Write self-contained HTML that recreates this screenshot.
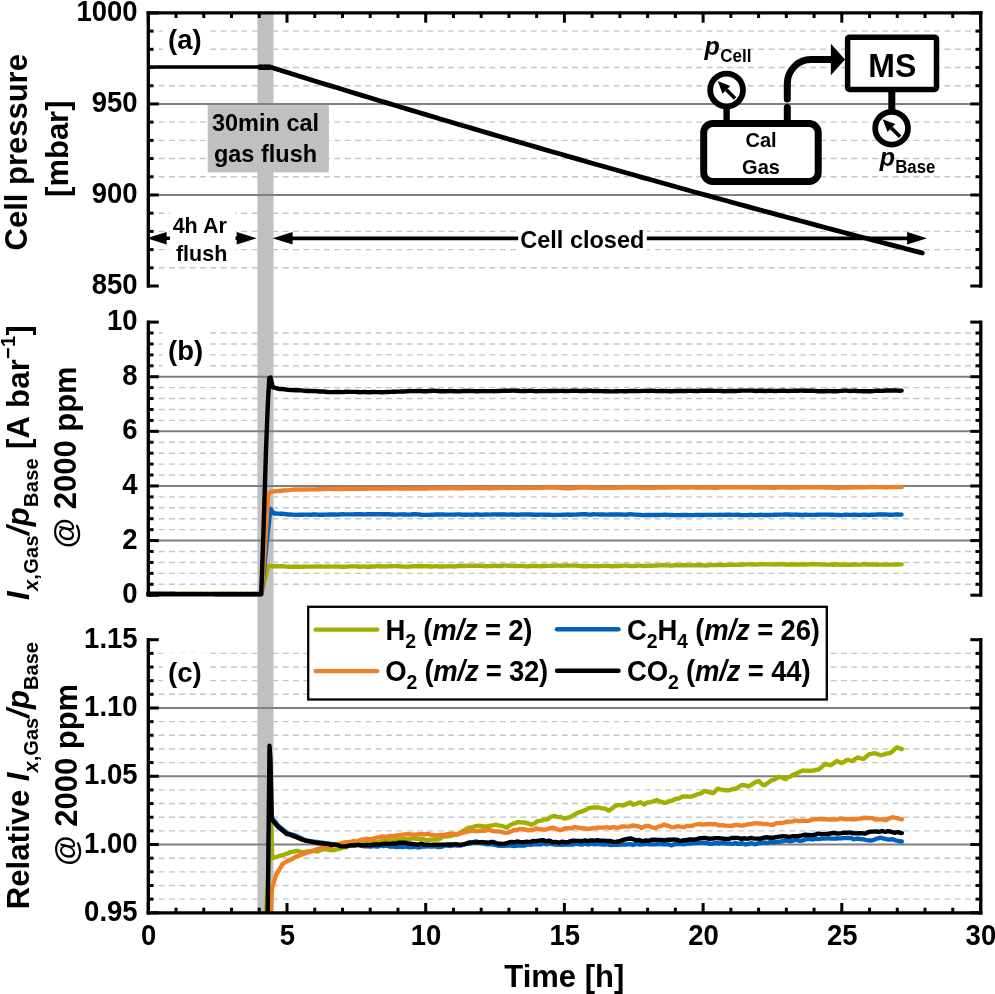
<!DOCTYPE html>
<html><head><meta charset="utf-8"><title>Cell pressure and MS calibration</title>
<style>
html,body{margin:0;padding:0;background:#fff;overflow:hidden;}
svg{display:block;}
text{font-family:"Liberation Sans",Arial,Helvetica,sans-serif;font-weight:bold;fill:#000;}
</style></head>
<body>
<svg width="995" height="994" viewBox="0 0 995 994">
<rect width="995" height="994" fill="#fff"/>
<rect x="257.4" y="12.9" width="16.1" height="899.9" fill="#C0C0C0"/>
<rect x="207.7" y="104.8" width="121.2" height="67.6" fill="#C0C0C0"/>
<line x1="158.6" y1="267.8" x2="977.8" y2="267.8" stroke="#C6C6C6" stroke-width="1.4" stroke-dasharray="5.9 4.44"/>
<line x1="158.6" y1="249.59" x2="977.8" y2="249.59" stroke="#C6C6C6" stroke-width="1.4" stroke-dasharray="5.9 4.44"/>
<line x1="158.6" y1="231.38" x2="977.8" y2="231.38" stroke="#C6C6C6" stroke-width="1.4" stroke-dasharray="5.9 4.44"/>
<line x1="158.6" y1="213.18" x2="977.8" y2="213.18" stroke="#C6C6C6" stroke-width="1.4" stroke-dasharray="5.9 4.44"/>
<line x1="148.3" y1="194.97" x2="980.8" y2="194.97" stroke="#808080" stroke-width="2"/>
<line x1="158.6" y1="176.76" x2="977.8" y2="176.76" stroke="#C6C6C6" stroke-width="1.4" stroke-dasharray="5.9 4.44"/>
<line x1="158.6" y1="158.56" x2="977.8" y2="158.56" stroke="#C6C6C6" stroke-width="1.4" stroke-dasharray="5.9 4.44"/>
<line x1="158.6" y1="140.35" x2="977.8" y2="140.35" stroke="#C6C6C6" stroke-width="1.4" stroke-dasharray="5.9 4.44"/>
<line x1="158.6" y1="122.14" x2="977.8" y2="122.14" stroke="#C6C6C6" stroke-width="1.4" stroke-dasharray="5.9 4.44"/>
<line x1="148.3" y1="103.94" x2="980.8" y2="103.94" stroke="#808080" stroke-width="2"/>
<line x1="158.6" y1="85.73" x2="977.8" y2="85.73" stroke="#C6C6C6" stroke-width="1.4" stroke-dasharray="5.9 4.44"/>
<line x1="158.6" y1="67.52" x2="977.8" y2="67.52" stroke="#C6C6C6" stroke-width="1.4" stroke-dasharray="5.9 4.44"/>
<line x1="158.6" y1="49.31" x2="977.8" y2="49.31" stroke="#C6C6C6" stroke-width="1.4" stroke-dasharray="5.9 4.44"/>
<line x1="158.6" y1="31.11" x2="977.8" y2="31.11" stroke="#C6C6C6" stroke-width="1.4" stroke-dasharray="5.9 4.44"/>
<line x1="158.6" y1="584.28" x2="977.8" y2="584.28" stroke="#C6C6C6" stroke-width="1.4" stroke-dasharray="5.9 4.44"/>
<line x1="158.6" y1="573.35" x2="977.8" y2="573.35" stroke="#C6C6C6" stroke-width="1.4" stroke-dasharray="5.9 4.44"/>
<line x1="158.6" y1="562.43" x2="977.8" y2="562.43" stroke="#C6C6C6" stroke-width="1.4" stroke-dasharray="5.9 4.44"/>
<line x1="158.6" y1="551.5" x2="977.8" y2="551.5" stroke="#C6C6C6" stroke-width="1.4" stroke-dasharray="5.9 4.44"/>
<line x1="148.3" y1="540.58" x2="980.8" y2="540.58" stroke="#808080" stroke-width="2"/>
<line x1="158.6" y1="529.66" x2="977.8" y2="529.66" stroke="#C6C6C6" stroke-width="1.4" stroke-dasharray="5.9 4.44"/>
<line x1="158.6" y1="518.73" x2="977.8" y2="518.73" stroke="#C6C6C6" stroke-width="1.4" stroke-dasharray="5.9 4.44"/>
<line x1="158.6" y1="507.81" x2="977.8" y2="507.81" stroke="#C6C6C6" stroke-width="1.4" stroke-dasharray="5.9 4.44"/>
<line x1="158.6" y1="496.88" x2="977.8" y2="496.88" stroke="#C6C6C6" stroke-width="1.4" stroke-dasharray="5.9 4.44"/>
<line x1="148.3" y1="485.96" x2="980.8" y2="485.96" stroke="#808080" stroke-width="2"/>
<line x1="158.6" y1="475.04" x2="977.8" y2="475.04" stroke="#C6C6C6" stroke-width="1.4" stroke-dasharray="5.9 4.44"/>
<line x1="158.6" y1="464.11" x2="977.8" y2="464.11" stroke="#C6C6C6" stroke-width="1.4" stroke-dasharray="5.9 4.44"/>
<line x1="158.6" y1="453.19" x2="977.8" y2="453.19" stroke="#C6C6C6" stroke-width="1.4" stroke-dasharray="5.9 4.44"/>
<line x1="158.6" y1="442.26" x2="977.8" y2="442.26" stroke="#C6C6C6" stroke-width="1.4" stroke-dasharray="5.9 4.44"/>
<line x1="148.3" y1="431.34" x2="980.8" y2="431.34" stroke="#808080" stroke-width="2"/>
<line x1="158.6" y1="420.42" x2="977.8" y2="420.42" stroke="#C6C6C6" stroke-width="1.4" stroke-dasharray="5.9 4.44"/>
<line x1="158.6" y1="409.49" x2="977.8" y2="409.49" stroke="#C6C6C6" stroke-width="1.4" stroke-dasharray="5.9 4.44"/>
<line x1="158.6" y1="398.57" x2="977.8" y2="398.57" stroke="#C6C6C6" stroke-width="1.4" stroke-dasharray="5.9 4.44"/>
<line x1="158.6" y1="387.64" x2="977.8" y2="387.64" stroke="#C6C6C6" stroke-width="1.4" stroke-dasharray="5.9 4.44"/>
<line x1="148.3" y1="376.72" x2="980.8" y2="376.72" stroke="#808080" stroke-width="2"/>
<line x1="158.6" y1="365.8" x2="977.8" y2="365.8" stroke="#C6C6C6" stroke-width="1.4" stroke-dasharray="5.9 4.44"/>
<line x1="158.6" y1="354.87" x2="977.8" y2="354.87" stroke="#C6C6C6" stroke-width="1.4" stroke-dasharray="5.9 4.44"/>
<line x1="158.6" y1="343.95" x2="977.8" y2="343.95" stroke="#C6C6C6" stroke-width="1.4" stroke-dasharray="5.9 4.44"/>
<line x1="158.6" y1="333.02" x2="977.8" y2="333.02" stroke="#C6C6C6" stroke-width="1.4" stroke-dasharray="5.9 4.44"/>
<line x1="158.6" y1="899.14" x2="977.8" y2="899.14" stroke="#C6C6C6" stroke-width="1.4" stroke-dasharray="5.9 4.44"/>
<line x1="158.6" y1="885.49" x2="977.8" y2="885.49" stroke="#C6C6C6" stroke-width="1.4" stroke-dasharray="5.9 4.44"/>
<line x1="158.6" y1="871.83" x2="977.8" y2="871.83" stroke="#C6C6C6" stroke-width="1.4" stroke-dasharray="5.9 4.44"/>
<line x1="158.6" y1="858.18" x2="977.8" y2="858.18" stroke="#C6C6C6" stroke-width="1.4" stroke-dasharray="5.9 4.44"/>
<line x1="148.3" y1="844.52" x2="980.8" y2="844.52" stroke="#808080" stroke-width="2"/>
<line x1="158.6" y1="830.87" x2="977.8" y2="830.87" stroke="#C6C6C6" stroke-width="1.4" stroke-dasharray="5.9 4.44"/>
<line x1="158.6" y1="817.21" x2="977.8" y2="817.21" stroke="#C6C6C6" stroke-width="1.4" stroke-dasharray="5.9 4.44"/>
<line x1="158.6" y1="803.56" x2="977.8" y2="803.56" stroke="#C6C6C6" stroke-width="1.4" stroke-dasharray="5.9 4.44"/>
<line x1="158.6" y1="789.9" x2="977.8" y2="789.9" stroke="#C6C6C6" stroke-width="1.4" stroke-dasharray="5.9 4.44"/>
<line x1="148.3" y1="776.25" x2="980.8" y2="776.25" stroke="#808080" stroke-width="2"/>
<line x1="158.6" y1="762.59" x2="977.8" y2="762.59" stroke="#C6C6C6" stroke-width="1.4" stroke-dasharray="5.9 4.44"/>
<line x1="158.6" y1="748.94" x2="977.8" y2="748.94" stroke="#C6C6C6" stroke-width="1.4" stroke-dasharray="5.9 4.44"/>
<line x1="158.6" y1="735.28" x2="977.8" y2="735.28" stroke="#C6C6C6" stroke-width="1.4" stroke-dasharray="5.9 4.44"/>
<line x1="158.6" y1="721.63" x2="977.8" y2="721.63" stroke="#C6C6C6" stroke-width="1.4" stroke-dasharray="5.9 4.44"/>
<line x1="148.3" y1="707.98" x2="980.8" y2="707.98" stroke="#808080" stroke-width="2"/>
<line x1="158.6" y1="694.32" x2="977.8" y2="694.32" stroke="#C6C6C6" stroke-width="1.4" stroke-dasharray="5.9 4.44"/>
<line x1="158.6" y1="680.67" x2="977.8" y2="680.67" stroke="#C6C6C6" stroke-width="1.4" stroke-dasharray="5.9 4.44"/>
<line x1="158.6" y1="667.01" x2="977.8" y2="667.01" stroke="#C6C6C6" stroke-width="1.4" stroke-dasharray="5.9 4.44"/>
<line x1="158.6" y1="653.36" x2="977.8" y2="653.36" stroke="#C6C6C6" stroke-width="1.4" stroke-dasharray="5.9 4.44"/>
<line x1="148.3" y1="67" x2="271" y2="67" stroke="#000" stroke-width="3.7"/>
<line x1="258.5" y1="67.2" x2="270" y2="67.2" stroke="#000" stroke-width="5.6"/>
<polyline fill="none" stroke="#000" stroke-width="4.8" stroke-linejoin="round" stroke-linecap="round" points="270,67 274,68.33 282,70.82 290,73.3 298,75.77 306,78.24 314,80.71 322,83.17 330,85.62 338,88.07 346,90.51 354,92.95 362,95.39 370,97.82 378,100.24 386,102.66 394,105.07 402,107.48 410,109.88 418,112.28 426,114.67 434,117.06 442,119.44 450,121.82 458,124.19 466,126.56 474,128.92 482,131.27 490,133.63 498,135.97 506,138.31 514,140.65 522,142.98 530,145.3 538,147.62 546,149.94 554,152.25 562,154.55 570,156.85 578,159.15 586,161.44 594,163.72 602,166 610,168.27 618,170.54 626,172.81 634,175.06 642,177.32 650,179.56 658,181.81 666,184.04 674,186.28 682,188.5 690,190.73 698,192.94 706,195.15 714,197.36 722,199.56 730,201.76 738,203.95 746,206.14 754,208.32 762,210.49 770,212.66 778,214.83 786,216.99 794,219.14 802,221.29 810,223.44 818,225.58 826,227.71 834,229.84 842,231.96 850,234.08 858,236.2 866,238.3 874,240.41 882,242.5 890,244.6 898,246.69 906,248.77 914,250.85 922,252.92 922.3,252.99"/>
<text transform="translate(265.5,130.8) scale(1,1.041)" font-size="23.5" text-anchor="middle">30min cal</text>
<text transform="translate(265.5,161.8) scale(1,1.041)" font-size="23.5" text-anchor="middle">gas flush</text>
<line x1="160" y1="238.3" x2="245" y2="238.3" stroke="#000" stroke-width="3.6"/>
<polygon points="146.6,238.3 166.6,232.1 166.6,244.5" fill="#000"/>
<polygon points="256.7,238.3 236.7,232.1 236.7,244.5" fill="#000"/>
<rect x="170" y="204" width="65.5" height="58" fill="#fff"/>
<text transform="translate(199.7,232.6) scale(1,1.041)" font-size="21.5" text-anchor="middle">4h Ar</text>
<text transform="translate(201.6,260.8) scale(1,1.041)" font-size="21.5" text-anchor="middle">flush</text>
<line x1="285" y1="238.3" x2="915" y2="238.3" stroke="#000" stroke-width="3.8"/>
<polygon points="272.6,238.3 292.6,232.1 292.6,244.5" fill="#000"/>
<polygon points="927.1,238.3 907.1,232.1 907.1,244.5" fill="#000"/>
<rect x="518.2" y="226" width="128.6" height="27" fill="#fff"/>
<text transform="translate(582.3,247.8) scale(1,1.041)" font-size="23.5" text-anchor="middle">Cell closed</text>
<rect x="703.7" y="123.6" width="114.5" height="57.8" rx="9" ry="9" stroke="#000" stroke-width="7" fill="#fff"/>
<text transform="translate(761,147.3) scale(1,1.041)" font-size="20" text-anchor="middle">Cal</text>
<text transform="translate(761,174.4) scale(1,1.041)" font-size="20" text-anchor="middle">Gas</text>
<line x1="726.6" y1="106" x2="726.6" y2="121" stroke="#000" stroke-width="6.4"/>
<line x1="891.8" y1="90" x2="891.8" y2="112" stroke="#000" stroke-width="7"/>
<path d="M787.3,121 V107.6" stroke="#000" stroke-width="7" fill="none" stroke-linecap="round"/>
<path d="M787.3,99 V83.5 A23.9,23.9 0 0 1 811.2,59.6 H833" stroke="#000" stroke-width="7" fill="none" stroke-linecap="round"/>
<polygon points="845,59.4 830.9,43.8 830.9,75.3" fill="#000"/>
<rect x="847.6" y="37.2" width="88.9" height="52.3" rx="2" ry="2" stroke="#000" stroke-width="5.5" fill="#fff"/>
<text transform="translate(892.3,76.6) scale(1,1.041)" font-size="32" text-anchor="middle">MS</text>
<circle cx="726.6" cy="90.0" r="16.4" stroke="#000" stroke-width="5.8" fill="#fff"/><line x1="735.09" y1="98.49" x2="726.39" y2="89.79" stroke="#000" stroke-width="3.7"/><polygon points="717.69,81.09 722.5,93.68 730.28,85.9" fill="#000"/>
<circle cx="891.6" cy="128.2" r="16.4" stroke="#000" stroke-width="5.8" fill="#fff"/><line x1="900.09" y1="136.69" x2="891.39" y2="127.99" stroke="#000" stroke-width="3.7"/><polygon points="882.69,119.29 887.5,131.88 895.28,124.1" fill="#000"/>
<text x="704.6" y="55.4" font-size="25" font-style="italic">p</text><text transform="translate(720.3,61.5) scale(1,1.041)" font-size="17">Cell</text>
<text x="879.7" y="166.4" font-size="25" font-style="italic">p</text><text transform="translate(895.2,172.5) scale(1,1.041)" font-size="16.8">Base</text>
<polyline fill="none" stroke="#A2AF00" stroke-width="4.4" stroke-linejoin="round" stroke-linecap="round"  points="148.3,594 150.32,594 152.34,594 154.36,594 156.39,594 158.41,594 160.43,594 162.45,594 164.47,594 166.49,594 168.51,594 170.54,594 172.56,594 174.58,594 176.6,594 178.62,594 180.64,594 182.66,594 184.69,594 186.71,594 188.73,594 190.75,594 192.77,594 194.79,594 196.81,594 198.84,594 200.86,594 202.88,594 204.9,594 206.92,594 208.94,594 210.96,594 212.99,594 215.01,594 217.03,594 219.05,594 221.07,594 223.09,594 225.11,594 227.14,594 229.16,594 231.18,594 233.2,594 235.22,594 237.24,594 239.26,594 241.29,594 243.31,594 245.33,594 247.35,594 249.37,594 251.39,594 253.41,594 255.44,594 257.46,594 259.48,594 261.5,594 263.7,584.53 265.9,575.07 268.1,565.6 272,566.2 274.09,566.23 276.18,566.29 278.27,566.27 280.36,566.28 282.45,566.26 284.55,566.35 286.64,566.62 288.73,566.7 290.82,566.74 292.91,566.78 295,566.79 297.02,566.79 299.04,566.8 301.06,566.8 303.08,566.76 305.1,566.66 307.12,566.65 309.13,566.62 311.15,566.61 313.17,566.6 315.19,566.57 317.21,566.47 319.23,566.38 321.25,566.48 323.27,566.64 325.29,566.58 327.31,566.45 329.33,566.46 331.35,566.6 333.37,566.65 335.38,566.52 337.4,566.43 339.42,566.57 341.44,566.72 343.46,566.71 345.48,566.68 347.5,566.61 349.52,566.33 351.54,566.26 353.56,566.33 355.58,566.38 357.6,566.56 359.62,566.74 361.63,566.67 363.65,566.54 365.67,566.59 367.69,566.76 369.71,566.76 371.73,566.56 373.75,566.46 375.77,566.33 377.79,566.23 379.81,566.31 381.83,566.43 383.85,566.42 385.87,566.45 387.88,566.42 389.9,566.25 391.92,566.21 393.94,566.17 395.96,566.17 397.98,566.26 400,566.35 402,566.47 404,566.67 406,566.69 408,566.62 410,566.57 412,566.37 414,566.26 416,566.29 418,566.32 420,566.3 422,566.26 424,566.25 426,566.23 428,566.24 430,566.45 432,566.57 434,566.43 436,566.27 438,566.33 440,566.45 442,566.46 444,566.43 446,566.41 448,566.33 450,566.27 452,566.36 454,566.44 456,566.28 458,566.02 460,565.97 462,566.06 464,566.04 466,565.84 468,565.73 470,565.79 472,565.87 474,565.84 476,565.78 478,565.79 480,565.82 482,565.85 484,566.06 486,566.18 488,566.14 490,566.08 492,565.99 494,565.81 496,565.81 498,565.97 500,565.97 502,565.75 504,565.61 506,565.64 508,565.68 510,565.76 512,565.92 514,565.96 516,565.95 518,565.97 520,565.87 522,565.84 524,566.09 526,566.35 528,566.24 530,566 532,565.96 534,565.96 536,565.97 538,566.11 540,566.18 542,566.06 544,565.93 546,565.91 548,565.9 550,565.86 552,565.76 554,565.69 556,565.64 558,565.58 560,565.63 562,565.7 564,565.6 566,565.46 568,565.46 570,565.58 572,565.64 574,565.62 576,565.65 578,565.75 580,565.86 582,566.01 584,566.23 586,566.25 588,566.11 590,566.06 592,566.08 594,566.09 596,566.15 598,566.22 600,566.11 602,565.89 604,565.86 606,565.84 608,565.86 610,566.07 612,566.19 614,566.14 616,566.09 618,565.97 620,565.76 622,565.7 624,565.65 626,565.64 628,565.8 630,565.89 632,565.93 634,565.97 636,565.85 638,565.61 640,565.64 642,565.87 644,565.93 646,565.91 648,565.89 650,565.81 652,565.72 654,565.66 656,565.56 658,565.48 660,565.33 662,565.25 664,565.2 666,565.16 668,565.37 670,565.59 672,565.48 674,565.24 676,565.23 678,565.37 680,565.38 682,565.23 684,565.14 686,565.26 688,565.4 690,565.37 692,565.31 694,565.3 696,565.24 698,565.25 700,565.26 702,565.26 704,565.39 706,565.52 708,565.41 710,565.17 712,565.11 714,565.1 716,565.06 718,565.09 720,565.07 722,565.07 724,565.08 726,564.99 728,564.88 730,564.82 732,564.68 734,564.65 736,564.82 738,564.91 740,564.72 742,564.52 744,564.47 746,564.39 748,564.37 750,564.42 752,564.43 754,564.45 756,564.46 758,564.34 760,564.22 762.02,564.23 764.05,564.27 766.07,564.29 768.09,564.35 770.11,564.37 772.14,564.42 774.16,564.43 776.18,564.3 778.21,564.17 780.23,564.19 782.25,564.24 784.27,564.29 786.3,564.45 788.32,564.48 790.34,564.51 792.37,564.53 794.39,564.47 796.41,564.44 798.43,564.48 800.46,564.53 802.48,564.55 804.5,564.54 806.53,564.51 808.55,564.37 810.57,564.32 812.59,564.29 814.62,564.27 816.64,564.26 818.66,564.25 820.69,564.41 822.71,564.66 824.73,564.66 826.75,564.58 828.78,564.58 830.8,564.67 832.82,564.71 834.85,564.46 836.87,564.31 838.89,564.48 840.91,564.68 842.94,564.69 844.96,564.67 846.98,564.69 849.01,564.77 851.03,564.77 853.05,564.63 855.07,564.53 857.1,564.67 859.12,564.8 861.14,564.61 863.17,564.31 865.19,564.31 867.21,564.45 869.23,564.49 871.26,564.55 873.28,564.58 875.3,564.63 877.33,564.68 879.35,564.65 881.37,564.61 883.39,564.61 885.42,564.61 887.44,564.61 889.46,564.64 891.49,564.64 893.51,564.67 895.53,564.67 897.55,564.52 899.58,564.36 901.6,564.4"/>
<polyline fill="none" stroke="#0061BE" stroke-width="4.4" stroke-linejoin="round" stroke-linecap="round"  points="148.3,594 150.32,594 152.34,594 154.36,594 156.39,594 158.41,594 160.43,594 162.45,594 164.47,594 166.49,594 168.51,594 170.54,594 172.56,594 174.58,594 176.6,594 178.62,594 180.64,594 182.66,594 184.69,594 186.71,594 188.73,594 190.75,594 192.77,594 194.79,594 196.81,594 198.84,594 200.86,594 202.88,594 204.9,594 206.92,594 208.94,594 210.96,594 212.99,594 215.01,594 217.03,594 219.05,594 221.07,594 223.09,594 225.11,594 227.14,594 229.16,594 231.18,594 233.2,594 235.22,594 237.24,594 239.26,594 241.29,594 243.31,594 245.33,594 247.35,594 249.37,594 251.39,594 253.41,594 255.44,594 257.46,594 259.48,594 261.5,594 265,560 268,530 270.5,508.9 273.9,513.5 276.01,513.48 278.12,513.59 280.23,513.71 282.34,513.78 284.45,513.95 286.56,514.3 288.67,514.47 290.78,514.56 292.89,514.66 295,514.82 297,514.85 299.01,514.78 301.01,514.71 303.02,514.69 305.02,514.65 307.03,514.66 309.03,514.73 311.04,514.73 313.04,514.56 315.05,514.47 317.05,514.62 319.06,514.77 321.06,514.75 323.07,514.69 325.07,514.67 327.08,514.59 329.08,514.57 331.09,514.56 333.09,514.54 335.1,514.57 337.1,514.59 339.11,514.48 341.11,514.34 343.12,514.31 345.12,514.34 347.13,514.34 349.13,514.38 351.14,514.41 353.14,514.36 355.15,514.31 357.15,514.27 359.16,514.2 361.16,514.23 363.17,514.35 365.17,514.37 367.18,514.3 369.18,514.26 371.19,514.26 373.19,514.26 375.2,514.24 377.2,514.23 379.21,514.24 381.21,514.29 383.22,514.28 385.22,514.18 387.23,514.15 389.23,514.31 391.24,514.44 393.24,514.5 395.25,514.6 397.25,514.54 399.26,514.37 401.26,514.36 403.27,514.48 405.27,514.53 407.28,514.59 409.28,514.64 411.29,514.47 413.29,514.25 415.3,514.29 417.3,514.37 419.31,514.46 421.31,514.72 423.32,514.84 425.32,514.88 427.33,514.91 429.33,514.86 431.34,514.79 433.34,514.7 435.35,514.5 437.35,514.44 439.36,514.46 441.36,514.45 443.37,514.54 445.37,514.59 447.38,514.58 449.38,514.59 451.39,514.59 453.39,514.59 455.4,514.57 457.4,514.42 459.41,514.41 461.41,514.63 463.42,514.79 465.42,514.7 467.43,514.59 469.43,514.63 471.44,514.73 473.44,514.69 475.45,514.48 477.45,514.41 479.46,514.63 481.46,514.75 483.47,514.64 485.47,514.53 487.48,514.54 489.48,514.58 491.49,514.55 493.49,514.39 495.5,514.36 497.5,514.49 499.5,514.57 501.51,514.57 503.51,514.57 505.52,514.57 507.52,514.58 509.53,514.56 511.53,514.49 513.54,514.49 515.54,514.62 517.55,514.69 519.55,514.61 521.56,514.53 523.56,514.53 525.57,514.53 527.57,514.52 529.58,514.48 531.58,514.5 533.59,514.69 535.59,514.8 537.6,514.69 539.6,514.59 541.61,514.65 543.61,514.71 545.62,514.72 547.62,514.69 549.63,514.7 551.63,514.87 553.64,514.94 555.64,514.9 557.65,514.86 559.65,514.84 561.66,514.82 563.66,514.75 565.67,514.58 567.67,514.55 569.68,514.68 571.68,514.71 573.69,514.65 575.69,514.59 577.7,514.49 579.7,514.36 581.71,514.29 583.71,514.22 585.72,514.24 587.72,514.54 589.73,514.67 591.73,514.44 593.74,514.27 595.74,514.33 597.75,514.4 599.75,514.43 601.76,514.44 603.76,514.48 605.77,514.6 607.77,514.64 609.78,514.5 611.78,514.38 613.79,514.46 615.79,514.56 617.8,514.54 619.8,514.5 621.81,514.51 623.81,514.65 625.82,514.69 627.82,514.46 629.83,514.3 631.83,514.39 633.84,514.53 635.84,514.61 637.85,514.73 639.85,514.84 641.86,515.06 643.86,515.16 645.87,515.06 647.87,514.99 649.88,514.98 651.88,514.97 653.89,515 655.89,515.05 657.9,515.03 659.9,514.91 661.91,514.86 663.91,514.78 665.92,514.73 667.92,514.83 669.93,514.96 671.93,515.02 673.94,515.15 675.94,515.16 677.95,515.11 679.95,515.08 681.96,514.94 683.96,514.85 685.97,514.95 687.97,515.06 689.98,515.09 691.98,515.15 693.99,515.11 695.99,514.92 698,514.88 700,514.98 702.02,515.04 704.03,514.98 706.05,514.92 708.06,514.9 710.08,514.87 712.1,514.86 714.11,514.87 716.13,514.86 718.14,514.83 720.16,514.81 722.18,514.84 724.19,514.87 726.21,514.8 728.22,514.71 730.24,514.75 732.26,514.87 734.27,514.89 736.29,514.8 738.3,514.79 740.32,515 742.34,515.15 744.35,515.13 746.37,515.1 748.38,515.01 750.4,514.82 752.42,514.84 754.43,515.08 756.45,515.13 758.46,514.94 760.48,514.82 762.5,514.88 764.51,514.94 766.53,514.95 768.54,514.97 770.56,514.94 772.58,514.84 774.59,514.78 776.61,514.72 778.62,514.66 780.64,514.65 782.66,514.64 784.67,514.55 786.69,514.44 788.7,514.51 790.72,514.75 792.74,514.79 794.75,514.6 796.77,514.56 798.78,514.81 800.8,515.01 802.82,514.93 804.83,514.8 806.85,514.82 808.86,514.85 810.88,514.85 812.9,514.86 814.91,514.84 816.93,514.7 818.94,514.6 820.96,514.59 822.98,514.58 824.99,514.59 827.01,514.65 829.02,514.67 831.04,514.7 833.06,514.73 835.07,514.88 837.09,514.98 839.1,515.03 841.12,515.08 843.14,514.93 845.15,514.67 847.17,514.7 849.18,514.86 851.2,514.87 853.22,514.73 855.23,514.67 857.25,514.83 859.26,514.96 861.28,514.84 863.3,514.69 865.31,514.75 867.33,514.92 869.34,514.93 871.36,514.81 873.38,514.75 875.39,514.62 877.41,514.53 879.42,514.49 881.44,514.44 883.46,514.47 885.47,514.53 887.49,514.59 889.5,514.79 891.52,514.82 893.54,514.6 895.55,514.48 897.57,514.55 899.58,514.62 901.6,514.6"/>
<polyline fill="none" stroke="#EF8026" stroke-width="4.4" stroke-linejoin="round" stroke-linecap="round"  points="148.3,594 150.32,594 152.34,594 154.36,594 156.39,594 158.41,594 160.43,594 162.45,594 164.47,594 166.49,594 168.51,594 170.54,594 172.56,594 174.58,594 176.6,594 178.62,594 180.64,594 182.66,594 184.69,594 186.71,594 188.73,594 190.75,594 192.77,594 194.79,594 196.81,594 198.84,594 200.86,594 202.88,594 204.9,594 206.92,594 208.94,594 210.96,594 212.99,594 215.01,594 217.03,594 219.05,594 221.07,594 223.09,594 225.11,594 227.14,594 229.16,594 231.18,594 233.2,594 235.22,594 237.24,594 239.26,594 241.29,594 243.31,594 245.33,594 247.35,594 249.37,594 251.39,594 253.41,594 255.44,594 257.46,594 259.48,594 261.5,594 264,560 266,530 268.1,495 270,492.5 272.8,491.5 274.82,491.32 276.84,491.16 278.85,491.04 280.87,490.79 282.89,490.52 284.91,490.41 286.93,490.36 288.95,490.16 290.96,489.82 292.98,489.58 295,489.43 297.06,489.43 299.12,489.55 301.18,489.65 303.24,489.57 305.29,489.46 307.35,489.44 309.41,489.42 311.47,489.4 313.53,489.41 315.59,489.36 317.65,489.28 319.71,489.2 321.76,489.12 323.82,489.06 325.88,488.96 327.94,488.85 330,488.92 332,489.07 334,489.08 336,489.11 338,489.1 340,489.07 342,489.04 344,488.95 346,488.86 348,488.8 350,488.71 352,488.69 354,488.69 356,488.71 358,488.79 360,488.85 362,488.85 364,488.85 366,488.77 368,488.62 370,488.59 372,488.6 374,488.58 376,488.59 378,488.58 380,488.58 382,488.58 384,488.59 386,488.64 388,488.61 390,488.52 392,488.48 394,488.37 396,488.33 398,488.5 400,488.68 402,488.66 404,488.59 406,488.59 408,488.62 410,488.6 412,488.52 414,488.46 416,488.48 418,488.51 420,488.48 422,488.46 424,488.46 426,488.55 428,488.55 430,488.38 432,488.27 434,488.34 436,488.42 438,488.36 440,488.25 442,488.26 444,488.37 446,488.39 448,488.22 450,488.12 452,488.15 454,488.19 456,488.18 458,488.19 460,488.19 462,488.26 464,488.25 466,488.1 468,488.01 470,488.08 472,488.16 474,488.12 476,488.06 478,488.05 480,488.07 482,488.08 484,488.12 486,488.14 488,488.22 490,488.31 492,488.22 494,488.07 496,488.04 498,488.11 500,488.08 502,487.85 504,487.71 506,487.83 508,487.97 510,487.9 512,487.77 514,487.75 516,487.72 518,487.74 520,487.89 522,487.98 524,488.02 526,488.06 528,487.95 530,487.72 532,487.7 534,487.75 536,487.75 538,487.85 540,487.89 542,487.78 544,487.67 546,487.64 548,487.61 550,487.59 552,487.55 554,487.57 556,487.62 558,487.68 560,487.84 562,488.01 564,488.1 566,488.21 568,488.23 570,488.22 572,488.18 574,488.01 576,487.88 578,487.72 580,487.55 582,487.52 584,487.54 586,487.54 588,487.64 590,487.68 592,487.71 594,487.75 596,487.76 598,487.77 600,487.77 602,487.72 604,487.77 606,487.87 608,487.9 610,487.88 612,487.84 614,487.82 616,487.8 618,487.69 620,487.54 622,487.52 624,487.64 626,487.66 628,487.63 630,487.62 632,487.5 634,487.38 636,487.43 638,487.5 640,487.59 642,487.77 644,487.84 646,487.71 648,487.64 650,487.76 652,487.87 654,487.8 656,487.67 658,487.63 660,487.65 662,487.63 664,487.61 666,487.59 668,487.49 670,487.38 672,487.39 674,487.4 676,487.4 678,487.39 680,487.4 682,487.5 684,487.56 686,487.56 688,487.56 690,487.49 692,487.36 694,487.41 696,487.63 698,487.71 700,487.62 702.02,487.59 704.03,487.58 706.05,487.56 708.06,487.59 710.08,487.62 712.1,487.64 714.11,487.73 716.13,487.7 718.14,487.53 720.16,487.41 722.18,487.36 724.19,487.33 726.21,487.34 728.22,487.39 730.24,487.4 732.26,487.41 734.27,487.41 736.29,487.36 738.3,487.33 740.32,487.26 742.34,487.2 744.35,487.23 746.37,487.27 748.38,487.3 750.4,487.39 752.42,487.43 754.43,487.44 756.45,487.49 758.46,487.5 760.48,487.54 762.5,487.55 764.51,487.55 766.53,487.57 768.54,487.59 770.56,487.61 772.58,487.68 774.59,487.68 776.61,487.6 778.62,487.55 780.64,487.4 782.66,487.27 784.67,487.35 786.69,487.49 788.7,487.52 790.72,487.56 792.74,487.55 794.75,487.49 796.77,487.45 798.78,487.44 800.8,487.42 802.82,487.39 804.83,487.37 806.85,487.32 808.86,487.22 810.88,487.23 812.9,487.33 814.91,487.4 816.93,487.37 818.94,487.38 820.96,487.39 822.98,487.39 824.99,487.46 827.01,487.55 829.02,487.55 831.04,487.54 833.06,487.55 835.07,487.7 837.09,487.77 839.1,487.72 841.12,487.67 843.14,487.64 845.15,487.6 847.17,487.6 849.18,487.62 851.2,487.58 853.22,487.42 855.23,487.31 857.25,487.34 859.26,487.34 861.28,487.3 863.3,487.28 865.31,487.21 867.33,487.11 869.34,487.09 871.36,487.06 873.38,487.06 875.39,487.11 877.41,487.16 879.42,487.17 881.44,487.17 883.46,487.23 885.47,487.33 887.49,487.31 889.5,487.17 891.52,487.12 893.54,487.09 895.55,487.06 897.57,487.08 899.58,487.1 901.6,487.13"/>
<polyline fill="none" stroke="#000000" stroke-width="4.4" stroke-linejoin="round" stroke-linecap="round"  points="148.3,594 150.32,594.01 152.33,594.01 154.35,594.02 156.36,594.02 158.38,594.03 160.4,594.03 162.41,594.04 164.43,594.04 166.44,594.05 168.46,594.05 170.48,594.06 172.49,594.06 174.51,594.07 176.53,594.08 178.54,594.08 180.56,594.09 182.57,594.09 184.59,594.1 186.61,594.1 188.62,594.11 190.64,594.11 192.65,594.12 194.67,594.12 196.69,594.13 198.7,594.13 200.72,594.14 202.73,594.14 204.75,594.15 206.77,594.16 208.78,594.16 210.8,594.17 212.81,594.17 214.83,594.18 216.85,594.18 218.86,594.19 220.88,594.19 222.89,594.2 224.91,594.2 226.93,594.21 228.94,594.21 230.96,594.22 232.97,594.22 234.99,594.23 237.01,594.24 239.02,594.24 241.04,594.25 243.06,594.25 245.07,594.26 247.09,594.26 249.1,594.27 251.12,594.27 253.14,594.28 255.15,594.28 257.17,594.29 259.18,594.29 261.2,594.3 263.5,530 266,450 268,400 269.3,378.1 270.5,377.5 272.8,387.4 275.2,387.97 277.6,388.5 280,389.04 282.1,389.06 284.2,389.24 286.3,389.59 288.4,389.82 290.5,389.99 292.6,390.16 294.7,390.19 296.8,390.25 298.83,390.32 300.87,390.38 302.9,390.57 304.93,390.9 306.97,391 309,390.97 311.03,391.02 313.07,391.02 315.1,391.08 317.13,391.27 319.17,391.44 321.2,391.51 323.23,391.56 325.27,391.73 327.3,392.01 329.33,392.11 331.37,392.09 333.4,392.09 335.43,391.95 337.47,391.85 339.5,391.98 341.53,392.13 343.57,391.99 345.6,391.76 347.63,391.77 349.67,391.86 351.7,391.89 353.73,391.84 355.77,391.84 357.8,392.06 359.83,392.24 361.87,392.13 363.9,391.98 365.93,392.07 367.97,392.22 370,392.24 372.09,392.05 374.18,391.99 376.27,392.1 378.36,392.13 380.45,392.18 382.54,392.19 384.63,392.12 386.72,392.03 388.81,391.96 390.9,391.87 392.99,391.8 395.08,391.74 397.17,391.66 399.26,391.58 401.35,391.51 403.44,391.49 405.53,391.42 407.62,391.2 409.71,391.06 411.8,391.09 413.81,391.14 415.82,391.07 417.82,390.97 419.83,391.01 421.84,391.18 423.85,391.19 425.85,391.2 427.86,391.19 429.87,390.94 431.88,390.78 433.88,390.82 435.89,390.87 437.9,390.99 439.91,391.2 441.92,391.25 443.92,391.23 445.93,391.23 447.94,391.07 449.95,390.97 451.95,391.12 453.96,391.28 455.97,391.29 457.98,391.34 459.98,391.28 461.99,391.09 464,391.02 466,390.98 468,390.96 470,391.01 472,391.08 474,391.17 476,391.31 478,391.3 480,391.12 482,391.08 484,391.12 486,391.14 488,391.12 490,391.09 492,391.13 494,391.22 496,391.17 498,391.05 500,390.97 502,390.85 504,390.76 506,390.76 508,390.78 510,390.73 512,390.62 514,390.64 516,390.73 518,390.79 520,391 522,391.12 524,391.03 526,390.93 528,390.88 530,390.8 532,390.86 534,391.11 536,391.21 538,391.1 540,391.06 542,391.1 544,391.11 546,391.11 548,391.05 550,391.05 552,391.06 554,391.04 556,391.01 558,390.97 560,390.92 562,390.88 564,390.94 566,391.11 568,391.07 570,390.88 572,390.81 574,390.8 576,390.79 578,390.86 580,390.94 582,390.98 584,391.07 586,391.03 588,390.82 590,390.78 592,390.94 594,391.05 596,391 598,390.95 600,391.03 602,391.13 604,391.18 606,391.22 608,391.24 610,391.34 612,391.39 614,391.34 616,391.28 618,391.22 620,391.13 622,391.13 624,391.23 626,391.24 628,391.09 630,391.01 632,390.99 634,390.97 636,391.02 638,391.15 640,391.09 642,390.92 644,390.85 646,390.9 648,390.93 650,390.82 652,390.72 654,390.84 656,391.05 658,391.09 660,391.03 662,391.02 664,390.94 666,390.9 668,391.07 670,391.25 672,391.18 674,391.05 676,391.03 678,391 680,390.99 682,390.98 684,390.97 686,390.94 688,390.9 690,390.91 692,390.92 694,390.93 696,391.05 698,391.04 700,390.82 702,390.69 704,390.68 706,390.69 708,390.71 710,390.77 712,390.8 714,390.87 716,390.91 718,390.91 720,390.92 722,391.06 724,391.2 726,391.14 728,390.99 730,390.97 732,390.99 734,390.97 736,390.94 738,390.9 740,390.78 742,390.66 744,390.64 746,390.64 748,390.63 750,390.61 752,390.62 754,390.81 756,390.93 758,390.81 760,390.68 762,390.78 764,390.95 766,390.95 768,390.81 770,390.77 772,390.89 774,390.95 776,390.93 778,390.91 780,390.84 782,390.72 784,390.74 786,390.92 788,390.96 790,390.88 792,390.83 794,390.82 796,390.8 798,390.73 800,390.59 802.03,390.6 804.06,390.72 806.1,390.74 808.13,390.7 810.16,390.68 812.19,390.76 814.22,390.84 816.26,390.99 818.29,391.19 820.32,391.25 822.35,391.29 824.38,391.28 826.42,391.04 828.45,390.97 830.48,391.14 832.51,391.21 834.54,391.23 836.58,391.23 838.61,391.1 840.64,390.92 842.67,390.81 844.7,390.62 846.74,390.6 848.77,390.83 850.8,390.93 852.83,390.83 854.86,390.78 856.9,390.94 858.93,391.14 860.96,391.17 862.99,391.18 865.02,391.2 867.06,391.2 869.09,391.19 871.12,391.2 873.15,391.17 875.18,390.89 877.22,390.64 879.25,390.72 881.28,390.87 883.31,390.77 885.34,390.57 887.38,390.51 889.41,390.45 891.44,390.43 893.47,390.51 895.5,390.56 897.54,390.62 899.57,390.68 901.6,390.58"/>
<clipPath id="cc"><rect x="148.3" y="639.7" width="832.5" height="273.1"/></clipPath>
<g clip-path="url(#cc)">
<polyline fill="none" stroke="#A2AF00" stroke-width="4.4" stroke-linejoin="round" stroke-linecap="round"  points="266,915 267.77,884.33 269.53,853.67 271.3,823 272.2,858.4 274.1,857.77 276,857.13 277.9,856.5 279.76,855.94 281.62,855.38 283.48,854.82 285.34,854.26 287.2,853.7 290,852.3 291.75,851.95 293.5,851.6 295.25,851.25 297,850.9 298.77,851.15 300.55,852.12 302.33,852.19 304.1,851.93 305.76,851.73 307.43,851.52 309.09,851.42 310.75,851.32 312.42,851.11 314.08,850.91 315.75,851.27 317.41,851.48 319.07,850.74 320.74,850.2 322.4,849.67 324.11,849.41 325.82,849.4 327.53,849.45 329.24,850.04 330.96,850.13 332.67,850.3 334.38,849.99 336.09,849.37 337.8,849.26 339.7,848.58 341.6,848.02 343.5,847.48 345.37,847.35 347.23,846.73 349.1,845.76 350.97,845.62 352.83,845.38 354.7,844.84 356.34,844.66 357.98,844.56 359.62,844.3 361.27,843.65 362.91,843.39 364.55,843.18 366.19,843.02 367.83,842.99 369.47,843 371.12,843.38 372.76,842.98 374.4,842.21 376.16,842.06 377.92,842.03 379.69,841.53 381.45,841.06 383.21,840.59 384.98,840.23 386.74,839.92 388.5,839.84 390.26,840.5 392.02,840.37 393.79,840.15 395.55,839.69 397.31,839.22 399.08,839.37 400.84,839.38 402.6,839.2 404.28,839.09 405.96,839.19 407.64,839.13 409.32,839.08 411,838.81 412.68,838.15 414.36,838.3 416.04,838.86 417.72,838.83 419.4,838.76 421.3,838.88 423.2,839.05 425.1,839.82 427,840.2 428.7,839.82 430.4,839.77 432.1,839.67 433.8,839.6 435.5,839.47 437.3,839.43 439.1,839.25 440.9,837.89 442.7,837.01 444.5,836.34 446.3,836.1 448.1,836.43 449.71,836.12 451.33,835.81 452.94,835.36 454.56,834.81 456.17,834.68 457.79,834.63 459.4,833.75 461.08,832 462.76,831.06 464.44,830.12 466.12,829.06 467.8,828.01 469.41,827.79 471.03,827.56 472.64,827.03 474.26,826.59 475.87,826.2 477.49,825.85 479.1,825.8 480.71,825.86 482.33,826.3 483.94,826.48 485.56,826.44 487.17,826.34 488.79,825.98 490.4,825.72 492.03,825.31 493.67,825.05 495.3,824.72 496.93,824.67 498.57,825.43 500.2,825.67 501.95,825.87 503.7,826.47 505.45,827.29 507.2,827.51 508.85,825.86 510.5,824.96 512.15,824.15 513.8,823.56 515.45,823.15 517.1,822.17 518.85,822.24 520.6,822.42 522.35,822.58 524.1,822.41 525.88,822.9 527.65,823.31 529.43,823.94 531.2,824.71 533.07,823.93 534.93,823.18 536.8,821.64 538.43,821.01 540.07,820.86 541.7,820.57 543.33,819.94 544.97,819.5 546.6,819.58 548.3,818.82 550,817.18 551.7,816.42 553.4,816.42 555.1,815.92 556.73,816.85 558.37,817.13 560,816.88 561.87,817.49 563.73,818.25 565.6,818.56 567.3,817.9 569,817.44 570.7,816.79 572.4,815.82 574.1,815 575.97,813.71 577.83,812.86 579.7,812.04 581.57,811.62 583.43,810.88 585.3,809.81 586.95,809.28 588.6,808.18 590.25,807.83 591.9,807.6 593.55,807.45 595.2,807.35 596.95,807.46 598.7,807.53 600.45,807.95 602.2,808.28 603.95,808.47 605.7,808.84 607.45,810.07 609.2,810.66 610.9,809.36 612.6,808.11 614.3,806.54 616,805.69 617.7,805.1 619.57,805.15 621.43,805.18 623.3,805.57 625.07,804.87 626.85,803.86 628.62,803.14 630.4,802.48 633.2,804.79 634.95,804.08 636.7,803.49 638.45,802.81 640.2,802.22 642.3,803.36 644.4,804.41 646.21,802.99 648.03,802.45 649.84,802.37 651.66,801.82 653.47,801.31 655.29,800.63 657.1,800.03 658.85,801.07 660.6,801.8 662.35,801.86 664.1,802.92 665.8,802.74 667.5,801.83 669.2,800.86 670.9,800.8 672.6,800.66 674.4,799.43 676.2,798.62 678,798.64 679.8,798.01 681.6,796.9 683.4,796.54 685.2,796.34 687.1,796.43 689,796.64 690.9,796.74 692.72,796.02 694.54,795.57 696.36,794.72 698.18,793.88 700,793.71 702.1,792.79 704.2,791.04 705.9,791.47 707.6,791.94 709.3,792.27 711,792.58 712.7,793.22 714.57,792.09 716.43,789.83 718.3,788.6 720.05,789.39 721.8,789.65 723.55,789.86 725.3,790.33 726.95,790.26 728.6,790.24 730.25,790.14 731.9,789.3 733.55,788.76 735.2,788.96 736.95,788.08 738.7,786.89 740.45,785.87 742.2,784.93 744.07,785.29 745.93,785.34 747.8,786.48 749.7,785.77 751.6,784.75 753.5,783.31 755.37,782.07 757.23,781.51 759.1,781.05 760.97,783.25 762.83,784.77 764.7,785.24 766.6,783.84 768.5,782.47 770.4,781.08 772.08,780.13 773.76,779.87 775.44,779.05 777.12,777.91 778.8,776.76 780.55,777.05 782.3,777.76 784.05,778.68 785.8,779.12 787.57,777.49 789.35,776.94 791.12,776.23 792.9,774.86 794.53,774.1 796.17,773.47 797.8,772.77 799.43,771.92 801.07,771.17 802.7,770.47 804.45,770.65 806.2,770.68 807.95,770.8 809.7,770.82 811.4,770.68 813.1,770.66 814.8,770.16 816.5,769.67 818.2,769.73 819.95,768.44 821.7,766.99 823.45,765.44 825.2,763.76 827.1,764.34 829,764.75 830.9,765.26 832.9,763.67 834.9,762.39 836.9,761 839.25,761.97 841.6,763.05 843.9,761.94 846.2,760.4 848.13,759.79 850.07,760.48 852,761.15 853.93,759.84 855.87,758.56 857.8,757.4 859.73,758 861.67,758.55 863.6,758.89 865.53,757.22 867.47,755.53 869.4,754.16 871.33,753.89 873.27,753.45 875.2,753.19 877.1,754.08 879,754.61 880.9,755.22 882.83,754.79 884.77,754.2 886.7,753.33 888.63,753.22 890.57,752.79 892.5,751.33 894.55,749.26 896.6,747.35 898.33,747.95 900.07,748.49 901.8,749.11"/>
<polyline fill="none" stroke="#0061BE" stroke-width="4.4" stroke-linejoin="round" stroke-linecap="round"  points="271.5,815 272.5,818.5 274.33,820.83 276.17,823.17 278,825.5 279.84,827 281.68,828.5 283.52,830 285.36,831.5 287.2,833 288.83,833.52 290.47,834.03 292.1,834.55 293.73,835.07 295.37,835.58 297,836.1 298.76,836.98 300.52,837.86 302.28,838.74 304.04,839.62 305.8,840.5 307.41,840.72 309.03,840.94 310.64,841.16 312.25,841.38 313.87,841.6 315.48,841.82 317.09,842.04 318.71,842.26 320.32,842.48 321.93,842.7 323.55,842.92 325.16,843.14 326.77,843.36 328.39,843.58 330,843.87 331.67,843.98 333.33,844.23 335,844.78 336.67,844.81 338.33,844.68 340,844.61 341.67,844.44 343.33,844.44 345,844.39 346.67,844.86 348.33,845.32 350,845.22 351.67,845.14 353.33,845.23 355,845.33 356.67,844.89 358.33,844.78 360,845.24 361.8,845.6 363.6,846.18 365.4,846.27 367.2,846.06 369,846.36 370.8,846.7 372.6,846.06 374.4,845.79 376.16,846.61 377.92,846.61 379.69,845.63 381.45,845.67 383.21,846.03 384.98,845.82 386.74,845.53 388.5,846.2 390.15,846.71 391.81,846.65 393.46,846.64 395.11,846.91 396.76,847.01 398.42,846.83 400.07,846.78 401.72,846.93 403.38,846.95 405.03,846.59 406.68,846.64 408.34,847.16 409.99,847.24 411.64,847.07 413.29,846.97 414.95,846.63 416.6,846.87 418.34,847.49 420.08,847.19 421.82,846.7 423.56,846.58 425.3,846.46 427.04,846.34 428.78,846.28 430.52,846.62 432.26,846.63 434,846.27 435.66,846.32 437.32,846.95 438.98,846.94 440.64,846.88 442.29,846.5 443.95,845.77 445.61,845.64 447.27,845.5 448.93,845.7 450.59,845.98 452.25,845.66 453.91,845.28 455.56,845.42 457.22,845.51 458.88,845.58 460.54,845.58 462.2,844.96 463.93,844.25 465.65,843.98 467.38,843.68 469.1,843.75 470.82,843.3 472.55,842.4 474.27,841.89 476,841.35 477.67,841.93 479.34,842.72 481.01,843.03 482.68,843.32 484.35,843.72 486.02,844.08 487.69,844.18 489.36,844.29 491.04,844.25 492.71,844.34 494.38,844.81 496.05,845.13 497.72,845.48 499.39,845.73 501.06,845.78 502.73,845.91 504.4,845.76 506.04,845.64 507.68,845.62 509.32,845.59 510.97,845.62 512.61,845.69 514.25,845.96 515.89,845.84 517.53,845.59 519.17,845.53 520.82,845.46 522.46,845.54 524.1,845.69 525.74,845.16 527.38,844.45 529.02,844.63 530.67,844.88 532.31,844.52 533.95,844.19 535.59,844.26 537.23,844.31 538.88,844.41 540.52,844.43 542.16,843.79 543.8,843.37 545.42,844.02 547.04,844.37 548.66,843.65 550.28,843.39 551.9,844 553.52,844.38 555.14,844.54 556.76,844.67 558.38,844.5 560,844.48 561.65,844.75 563.31,844.78 564.96,844.62 566.61,844.52 568.26,844.43 569.92,844.42 571.57,844.64 573.22,844.46 574.88,843.71 576.53,843.71 578.18,844.05 579.84,844.21 581.49,844.56 583.14,844.25 584.79,843.63 586.45,843.94 588.1,844.52 589.76,844.17 591.42,843.67 593.08,844.03 594.74,844.42 596.39,844.07 598.05,843.82 599.71,844.14 601.37,844.39 603.03,844.47 604.69,844.53 606.35,844.27 608.01,844.24 609.66,844.85 611.32,844.99 612.98,844.71 614.64,844.63 616.3,844.79 617.95,844.7 619.61,844.49 621.26,844.44 622.91,844.46 624.56,844.47 626.22,844.47 627.87,844.4 629.52,844.19 631.18,844.44 632.83,844.93 634.48,844.42 636.14,843.64 637.79,844.02 639.44,844.53 641.09,844.43 642.75,844.35 644.4,844.02 646.06,843.85 647.72,844.16 649.38,844.38 651.04,844.36 652.69,844.38 654.35,844.38 656.01,844.37 657.67,844.1 659.33,844.06 660.99,844.14 662.65,844.21 664.31,844.29 665.96,844.34 667.62,844.33 669.28,844.55 670.94,845.21 672.6,845.04 674.21,844.31 675.82,844.15 677.44,844.08 679.05,844 680.66,843.95 682.27,844.02 683.88,844.28 685.49,844.05 687.11,843.62 688.72,843.53 690.33,843.5 691.94,843.29 693.55,842.97 695.16,842.93 696.78,842.94 698.39,842.83 700,842.65 701.65,842.76 703.31,842.89 704.96,842.94 706.61,843 708.26,843.44 709.92,843.92 711.57,843.7 713.22,843.51 714.88,843.21 716.53,842.99 718.18,843.3 719.84,843.45 721.49,843.12 723.14,842.98 724.79,843.4 726.45,843.55 728.1,843.43 729.76,843.46 731.42,843.89 733.08,843.88 734.74,843.27 736.39,843.31 738.05,843.91 739.71,843.82 741.37,843.26 743.03,843.53 744.69,844.29 746.35,844.23 748.01,843.96 749.66,843.68 751.32,843.21 752.98,843.69 754.64,844.26 756.3,843.84 758.06,843.25 759.82,843.12 761.59,842.95 763.35,842.56 765.11,842.51 766.88,843.1 768.64,842.76 770.4,841.89 772.15,842.08 773.9,842.43 775.65,841.98 777.4,841.61 779.15,841.73 780.9,841.65 782.65,841.09 784.4,840.8 786.16,840.41 787.92,840.59 789.69,841.23 791.45,840.96 793.21,840.68 794.98,840.17 796.74,839.87 798.5,840.56 800.26,840.76 802.02,840.61 803.79,840.21 805.55,839.34 807.31,839.07 809.08,838.81 810.84,839.19 812.6,839.5 814.35,838.89 816.1,838.63 817.85,839.1 819.6,839.01 821.35,838.59 823.1,838.53 824.85,838.62 826.6,838.39 828.27,838.3 829.93,838.45 831.6,838.59 833.27,838.64 834.93,838.68 836.6,838.5 838.27,838.39 839.93,838.39 841.6,838.36 843.33,838.14 845.06,838.08 846.79,837.93 848.52,837.95 850.25,837.99 851.98,838.45 853.71,839.24 855.44,838.92 857.17,838.53 858.9,838.79 860.56,839.09 862.21,839.19 863.87,839.36 865.53,839.87 867.19,840.21 868.84,840.34 870.5,840.54 872.23,840.4 873.97,839.91 875.7,839.02 877.43,838.5 879.17,837.99 880.9,837.7 882.76,838.31 884.62,838.73 886.48,839.08 888.34,839.54 890.2,839.59 891.86,839.17 893.51,839.57 895.17,840.31 896.83,840.63 898.49,840.96 900.14,841.21 901.8,841.46"/>
<polyline fill="none" stroke="#EF8026" stroke-width="4.4" stroke-linejoin="round" stroke-linecap="round"  points="270.8,915 272,888.1 274,881.6 276,875.1 277.65,872.33 279.3,869.55 280.95,866.77 282.6,864 284.9,862.6 287.2,861.2 290,860 291.62,859.12 293.25,858.25 294.88,857.38 296.5,856.5 298.4,855.8 300.3,855.1 302.2,854.4 304.1,853.7 305.85,853.09 307.6,852.48 309.35,851.86 311.1,851.25 312.85,850.64 314.6,850.02 316.35,849.41 318.1,848.8 319.86,848.41 321.62,848.02 323.39,847.64 325.15,847.25 326.91,846.86 328.68,846.48 330.44,845.87 332.2,845.52 333.96,844.82 335.73,844.4 337.49,844.26 339.25,843.83 341.01,843.37 342.77,842.88 344.54,842.43 346.3,842.31 348.06,842.26 349.82,841.97 351.59,841.69 353.35,841.05 355.11,841.03 356.88,841.52 358.64,840.81 360.4,839.91 362.15,839.61 363.9,839.32 365.65,839 367.4,838.81 369.15,839.1 370.9,838.98 372.65,838.77 374.4,838.36 376.16,837.74 377.92,837.43 379.69,837.13 381.45,836.7 383.21,836.44 384.98,837.05 386.74,837.03 388.5,836.15 390.26,836.04 392.02,836.22 393.79,835.95 395.55,835.59 397.31,835.36 399.08,835.14 400.84,834.97 402.6,834.79 404.35,834.5 406.1,834.35 407.85,834.14 409.6,834.27 411.35,834.65 413.1,834.73 414.85,834.79 416.6,834.52 418.3,834.46 420,834.08 421.75,833.93 423.5,834.4 425.25,834.41 427,833.85 428.75,834.03 430.5,834.52 432.25,834.96 434,835.47 435.76,835.55 437.52,835.56 439.29,835.07 441.05,834.83 442.81,835.05 444.58,834.84 446.34,834.32 448.1,834.14 449.86,833.94 451.62,833.8 453.39,833.68 455.15,833.89 456.91,833.92 458.68,833.55 460.44,833.29 462.2,832.86 463.95,832.41 465.7,832.14 467.45,831.62 469.2,831.08 470.86,830.87 472.53,830.67 474.19,830.95 475.85,831.11 477.52,831.06 479.18,830.98 480.85,830.69 482.51,830.54 484.17,830.75 485.84,830.66 487.5,829.72 489.11,829.79 490.73,830.46 492.34,830.83 493.96,831.18 495.57,831.39 497.19,831.34 498.8,831.46 500.48,831.57 502.16,831.94 503.84,832.68 505.52,832.89 507.2,832.9 508.81,832.29 510.43,831.62 512.04,830.99 513.66,830.24 515.27,830.05 516.89,830.2 518.5,829.34 520.13,829.01 521.77,829.08 523.4,829.14 525.03,829.49 526.67,829.9 528.3,830.29 530.07,829.9 531.85,829.96 533.62,829.74 535.4,828.55 537.08,828.65 538.76,829.01 540.44,829.25 542.12,829.33 543.8,829.68 545.45,829.63 547.1,829.2 548.75,828.59 550.4,828.23 552.05,827.94 553.7,827.72 555.8,828.67 557.9,829.51 560,830.18 561.76,829.83 563.52,829.07 565.29,828.23 567.05,828.23 568.81,828.14 570.58,828.32 572.34,828.08 574.1,827.08 575.85,827.19 577.6,827.54 579.35,827.87 581.1,828.26 582.85,828.3 584.6,828.31 586.35,828.69 588.1,828.89 589.86,828.73 591.62,828.55 593.39,828.18 595.15,827.98 596.91,827.72 598.68,827.65 600.44,827.61 602.2,827.6 603.89,827.59 605.58,827.38 607.27,827.27 608.96,827.75 610.65,827.78 612.34,827.2 614.03,827.15 615.72,827.75 617.41,827.7 619.1,827.4 620.82,826.99 622.54,826.35 624.27,826.46 625.99,826.65 627.71,826.6 629.43,826.51 631.16,825.88 632.88,825.49 634.6,825.71 636.35,826.23 638.1,826.24 639.85,826.88 641.6,828.06 643.35,827.19 645.1,826.06 646.85,825.98 648.6,825.87 650.38,826.72 652.15,827.4 653.93,827.79 655.7,828.14 657.38,827 659.06,826.45 660.74,826.15 662.42,825.44 664.1,824.53 665.8,825.04 667.5,825.61 669.2,826.35 670.9,827.07 672.6,827.4 674.47,827.26 676.33,826.4 678.2,826.3 680.07,826.68 681.93,826.91 683.8,827.19 685.41,826.53 687.03,826 688.64,826.16 690.26,826.11 691.87,825.78 693.49,825.37 695.1,824.62 696.73,824.39 698.37,824.17 700,824.07 701.76,824.49 703.52,824.6 705.29,824.31 707.05,824.22 708.81,824.01 710.58,824.12 712.34,824.26 714.1,824.22 715.85,824.26 717.6,824.96 719.35,825.31 721.1,825.1 722.85,825.18 724.6,825.47 726.35,825.63 728.1,825.82 729.86,825.89 731.62,825.96 733.39,825.31 735.15,824.86 736.91,825.02 738.68,825.15 740.44,825.59 742.2,825.59 743.96,825.24 745.73,824.8 747.49,824.24 749.25,824.2 751.01,824.17 752.77,823.63 754.54,823.33 756.3,823.23 758.06,823.39 759.82,823.46 761.59,823.72 763.35,824.11 765.11,824.11 766.88,824.08 768.64,824.37 770.4,824.6 772.15,824.74 773.9,824.48 775.65,823.41 777.4,823.1 779.15,823.16 780.9,822.99 782.65,822.9 784.4,822.41 786.16,822.03 787.92,821.79 789.69,821.59 791.45,821.63 793.21,821.35 794.98,820.42 796.74,820.48 798.5,821.14 800.26,820.94 802.02,820.71 803.79,820.78 805.55,820.84 807.31,820.84 809.08,820.7 810.84,819.91 812.6,819.67 814.35,819.42 816.1,819.22 817.85,819.06 819.6,819.02 821.35,819.02 823.1,819.19 824.85,819.26 826.6,819.16 828.3,819.55 830,819.56 831.66,819.47 833.31,819.59 834.97,819.52 836.63,819.45 838.29,819.13 839.94,818.55 841.6,818.56 843.26,819.12 844.91,819.16 846.57,819.19 848.23,819.15 849.89,819.06 851.54,819.24 853.2,819.43 854.84,819.25 856.49,819.07 858.13,818.85 859.77,818.65 861.41,818.27 863.06,817.97 864.7,817.81 866.56,817.93 868.42,818.03 870.28,818.12 872.14,818.11 874,818.85 875.66,819.67 877.31,819.47 878.97,819.35 880.63,819.38 882.29,819.47 883.94,819.94 885.6,820.29 887.33,819.27 889.05,818.44 890.77,817.96 892.5,817.18 894.36,817.58 896.22,817.97 898.08,818.3 899.94,818.96 901.8,819.49"/>
<polyline fill="none" stroke="#000000" stroke-width="4.4" stroke-linejoin="round" stroke-linecap="round"  points="267.7,915 268.6,830 269.5,745.8 270.5,760 271.4,800 271.8,819.3 273.83,821.77 275.87,824.23 277.9,826.7 279.76,828.2 281.62,829.7 283.48,831.2 285.34,832.7 287.2,834.2 290,834.7 291.75,835.4 293.5,836.1 295.25,836.8 297,837.5 298.77,838.2 300.55,838.9 302.33,839.6 304.1,840.3 305.85,840.65 307.6,841 309.35,841.35 311.1,841.7 312.85,842.05 314.6,842.4 316.35,842.75 318.1,843.1 319.86,843.25 321.62,843.4 323.39,843.55 325.15,843.7 326.91,843.85 328.68,844 330.44,844.79 332.2,845.03 333.96,844.47 335.73,844.59 337.49,845.21 339.25,845.68 341.01,846.35 342.77,846.41 344.54,846.38 346.3,846.34 348.06,845.93 349.82,845.42 351.59,845.17 353.35,845.41 355.11,845.27 356.88,844.86 358.64,844.98 360.4,845.23 362.15,845.32 363.9,845.34 365.65,845.08 367.4,844.92 369.15,845.18 370.9,845.09 372.65,844.6 374.4,844.5 376.16,844.42 377.92,844.52 379.69,844.72 381.45,844.24 383.21,843.87 384.98,843.74 386.74,843.68 388.5,843.94 390.26,843.85 392.02,843.55 393.79,843.56 395.55,843.76 397.31,843.19 399.08,842.67 400.84,842.69 402.6,842.69 404.35,842.62 406.1,842.87 407.85,843.51 409.6,843.73 411.35,843.79 413.1,843.99 414.85,844.2 416.6,844.49 418.28,844.6 419.95,843.96 421.62,843.59 423.3,844.41 424.98,844.81 426.65,844.62 428.32,844.64 430,844.85 431.65,844.92 433.29,844.75 434.94,844.75 436.58,844.81 438.23,844.79 439.87,844.66 441.52,844.66 443.16,844.66 444.81,844.62 446.45,844.49 448.1,844.53 449.86,844.51 451.62,844.43 453.39,844.34 455.15,844.29 456.91,844.26 458.68,844.72 460.44,844.78 462.2,844.57 463.89,844.26 465.58,843.85 467.27,843.34 468.96,842.54 470.65,842.41 472.34,842.39 474.03,842.38 475.72,842.41 477.41,842.37 479.1,842.31 480.86,842.13 482.62,842.06 484.39,842.28 486.15,842.4 487.91,842.68 489.68,842.48 491.44,841.93 493.2,842 494.88,842.51 496.56,843.18 498.24,843.77 499.92,843.74 501.6,843.82 503.29,843.83 504.98,843.65 506.67,843.08 508.36,842.71 510.05,842.16 511.74,842.01 513.43,842.28 515.12,842.08 516.81,841.55 518.5,841.63 520.19,842.17 521.87,842.15 523.56,842.15 525.25,841.93 526.93,841.69 528.62,841.92 530.31,842.07 531.99,841.42 533.68,841.01 535.37,841.1 537.05,841.03 538.74,840.65 540.43,840.44 542.11,840.2 543.8,840.26 545.42,841.17 547.04,841.25 548.66,840.71 550.28,841.01 551.9,841.98 553.52,842.13 555.14,841.97 556.76,842.18 558.38,842.5 560,842.47 561.76,841.67 563.52,841.92 565.29,842.38 567.05,842.11 568.81,841.86 570.58,841.11 572.34,840.78 574.1,840.79 575.75,840.84 577.41,840.83 579.06,840.92 580.71,841.21 582.36,841.01 584.02,840.48 585.67,840.56 587.32,841.02 588.98,840.77 590.63,840.41 592.28,840.46 593.94,840.62 595.59,840.39 597.24,840.12 598.89,840.44 600.55,840.75 602.2,840.62 603.96,840.61 605.73,840.88 607.49,841.03 609.25,840.89 611.01,841.08 612.77,841.74 614.54,841.83 616.3,841.79 618.06,841.5 619.82,841.17 621.59,840.42 623.35,839.83 625.11,839.37 626.88,839.03 628.64,838.75 630.4,838.52 632.15,838.76 633.9,839.46 635.65,840.37 637.4,840.14 639.15,839.99 640.9,840.75 642.65,841.16 644.4,840.78 646.16,840.52 647.92,840.71 649.69,840.41 651.45,839.89 653.21,839.74 654.98,839.62 656.74,839.82 658.5,839.88 660.12,839.85 661.75,839.9 663.37,840.27 664.99,840.4 666.62,839.82 668.24,839.62 669.86,839.69 671.48,839.71 673.11,839.57 674.73,839.57 676.35,839.78 677.98,840.01 679.6,840.84 681.3,840.85 683,840.36 684.7,840.18 686.4,839.97 688.1,839.76 689.8,839.47 691.5,839.53 693.2,839.69 694.9,839.48 696.6,839.27 698.3,838.69 700,838.25 701.65,838.13 703.31,838.04 704.96,838.07 706.61,838.08 708.26,838.6 709.92,838.73 711.57,838.64 713.22,838.56 714.88,838.14 716.53,838.12 718.18,838.22 719.84,838.32 721.49,838.46 723.14,838.62 724.79,838.96 726.45,838.96 728.1,838.92 729.76,838.58 731.42,838.03 733.08,837.97 734.74,837.98 736.39,837.92 738.05,837.86 739.71,838.33 741.37,838.79 743.03,838.5 744.69,838.29 746.35,838.6 748.01,838.77 749.66,838.2 751.32,837.99 752.98,838.41 754.64,838.63 756.3,838.65 758.06,838.58 759.82,838.78 761.59,838.47 763.35,837.78 765.11,837.53 766.88,837.27 768.64,837.55 770.4,837.72 772.15,837.76 773.9,837.68 775.65,837.16 777.4,836.94 779.15,836.68 780.9,836.48 782.65,836.18 784.4,836.3 786.16,836.48 787.92,836.79 789.69,836.95 791.45,836.35 793.21,836.12 794.98,836.14 796.74,836.1 798.5,836.11 800.26,835.76 802.02,835.3 803.79,835.02 805.55,834.76 807.31,834.94 809.08,834.96 810.84,835.17 812.6,834.99 814.35,834.71 816.1,834.3 817.85,833.65 819.6,833.81 821.35,834.08 823.1,834.08 824.85,834.08 826.6,833.84 828.27,833.7 829.93,833.45 831.6,833.3 833.27,833.06 834.93,833.06 836.6,833.47 838.27,833.48 839.93,833.4 841.6,833.17 843.25,832.8 844.9,832.77 846.55,832.69 848.2,832.61 849.85,832.51 851.5,832.8 853.15,833.3 854.8,833.33 856.45,833.41 858.1,833.23 859.75,833.08 861.4,833.25 863.05,833.41 864.7,833.57 866.45,833.21 868.2,832.29 869.95,831.7 871.7,831.59 873.32,831.6 874.94,831.48 876.56,831.52 878.18,831.88 879.8,831.77 881.42,831.12 883.04,831.2 884.66,831.82 886.28,831.71 887.9,831.06 889.64,831.34 891.38,831.95 893.11,832.31 894.85,832.75 896.59,832.41 898.32,832.17 900.06,832.75 901.8,833.11"/>
</g>
<rect x="308.2" y="606.8" width="518.6" height="92.7" fill="#fff" stroke="#000" stroke-width="2.3"/>
<line x1="315.5" y1="629.6" x2="377.2" y2="629.6" stroke="#A2AF00" stroke-width="4.4" stroke-linecap="round"/>
<line x1="557" y1="629.2" x2="618.5" y2="629.2" stroke="#0061BE" stroke-width="4.4" stroke-linecap="round"/>
<line x1="315.5" y1="671.1" x2="377.2" y2="671.1" stroke="#EF8026" stroke-width="4.4" stroke-linecap="round"/>
<line x1="557" y1="670.7" x2="618.5" y2="670.7" stroke="#000000" stroke-width="4.4" stroke-linecap="round"/>
<text transform="translate(385.5,639.8) scale(1,1.041)" font-size="27.5" textLength="146.95" lengthAdjust="spacing">H<tspan font-size="19.5" dy="7.7">2</tspan><tspan dy="-7.7"> (</tspan><tspan font-style="italic">m/z</tspan> = 2)</text>
<text transform="translate(385.3,681.3) scale(1,1.041)" font-size="27.5" textLength="162.9" lengthAdjust="spacing">O<tspan font-size="19.5" dy="7.7">2</tspan><tspan dy="-7.7"> (</tspan><tspan font-style="italic">m/z</tspan> = 32)</text>
<text transform="translate(627,639.8) scale(1,1.041)" font-size="27.5" textLength="193.0" lengthAdjust="spacing">C<tspan font-size="19.5" dy="7.7">2</tspan><tspan dy="-7.7">H</tspan><tspan font-size="19.5" dy="7.7">4</tspan><tspan dy="-7.7"> (</tspan><tspan font-style="italic">m/z</tspan> = 26)</text>
<text transform="translate(627,681.3) scale(1,1.041)" font-size="27.5" textLength="183.6" lengthAdjust="spacing">CO<tspan font-size="19.5" dy="7.7">2</tspan><tspan dy="-7.7"> (</tspan><tspan font-style="italic">m/z</tspan> = 44)</text>
<line x1="148.3" y1="12.9" x2="148.3" y2="286" stroke="#000" stroke-width="3.3" fill="none" stroke-linecap="square"/>
<line x1="980.8" y1="12.9" x2="980.8" y2="286" stroke="#000" stroke-width="3.3" fill="none" stroke-linecap="square"/>
<line x1="148.3" y1="322.1" x2="148.3" y2="595.2" stroke="#000" stroke-width="3.3" fill="none" stroke-linecap="square"/>
<line x1="980.8" y1="322.1" x2="980.8" y2="595.2" stroke="#000" stroke-width="3.3" fill="none" stroke-linecap="square"/>
<line x1="148.3" y1="639.7" x2="148.3" y2="912.8" stroke="#000" stroke-width="3.3" fill="none" stroke-linecap="square"/>
<line x1="980.8" y1="639.7" x2="980.8" y2="912.8" stroke="#000" stroke-width="3.3" fill="none" stroke-linecap="square"/>
<line x1="148.3" y1="12.9" x2="980.8" y2="12.9" stroke="#000" stroke-width="3.3" fill="none" stroke-linecap="square"/>
<line x1="148.3" y1="912.8" x2="980.8" y2="912.8" stroke="#000" stroke-width="3.3" fill="none" stroke-linecap="square"/>
<line x1="148.3" y1="286" x2="158.8" y2="286" stroke="#000" stroke-width="3"/>
<line x1="980.8" y1="286" x2="970.3" y2="286" stroke="#000" stroke-width="3"/>
<line x1="148.3" y1="267.8" x2="153.6" y2="267.8" stroke="#000" stroke-width="3"/>
<line x1="980.8" y1="267.8" x2="975.5" y2="267.8" stroke="#000" stroke-width="3"/>
<line x1="148.3" y1="249.59" x2="153.6" y2="249.59" stroke="#000" stroke-width="3"/>
<line x1="980.8" y1="249.59" x2="975.5" y2="249.59" stroke="#000" stroke-width="3"/>
<line x1="148.3" y1="231.38" x2="153.6" y2="231.38" stroke="#000" stroke-width="3"/>
<line x1="980.8" y1="231.38" x2="975.5" y2="231.38" stroke="#000" stroke-width="3"/>
<line x1="148.3" y1="213.18" x2="153.6" y2="213.18" stroke="#000" stroke-width="3"/>
<line x1="980.8" y1="213.18" x2="975.5" y2="213.18" stroke="#000" stroke-width="3"/>
<line x1="148.3" y1="194.97" x2="158.8" y2="194.97" stroke="#000" stroke-width="3"/>
<line x1="980.8" y1="194.97" x2="970.3" y2="194.97" stroke="#000" stroke-width="3"/>
<line x1="148.3" y1="176.76" x2="153.6" y2="176.76" stroke="#000" stroke-width="3"/>
<line x1="980.8" y1="176.76" x2="975.5" y2="176.76" stroke="#000" stroke-width="3"/>
<line x1="148.3" y1="158.56" x2="153.6" y2="158.56" stroke="#000" stroke-width="3"/>
<line x1="980.8" y1="158.56" x2="975.5" y2="158.56" stroke="#000" stroke-width="3"/>
<line x1="148.3" y1="140.35" x2="153.6" y2="140.35" stroke="#000" stroke-width="3"/>
<line x1="980.8" y1="140.35" x2="975.5" y2="140.35" stroke="#000" stroke-width="3"/>
<line x1="148.3" y1="122.14" x2="153.6" y2="122.14" stroke="#000" stroke-width="3"/>
<line x1="980.8" y1="122.14" x2="975.5" y2="122.14" stroke="#000" stroke-width="3"/>
<line x1="148.3" y1="103.94" x2="158.8" y2="103.94" stroke="#000" stroke-width="3"/>
<line x1="980.8" y1="103.94" x2="970.3" y2="103.94" stroke="#000" stroke-width="3"/>
<line x1="148.3" y1="85.73" x2="153.6" y2="85.73" stroke="#000" stroke-width="3"/>
<line x1="980.8" y1="85.73" x2="975.5" y2="85.73" stroke="#000" stroke-width="3"/>
<line x1="148.3" y1="67.52" x2="153.6" y2="67.52" stroke="#000" stroke-width="3"/>
<line x1="980.8" y1="67.52" x2="975.5" y2="67.52" stroke="#000" stroke-width="3"/>
<line x1="148.3" y1="49.31" x2="153.6" y2="49.31" stroke="#000" stroke-width="3"/>
<line x1="980.8" y1="49.31" x2="975.5" y2="49.31" stroke="#000" stroke-width="3"/>
<line x1="148.3" y1="31.11" x2="153.6" y2="31.11" stroke="#000" stroke-width="3"/>
<line x1="980.8" y1="31.11" x2="975.5" y2="31.11" stroke="#000" stroke-width="3"/>
<line x1="148.3" y1="12.9" x2="158.8" y2="12.9" stroke="#000" stroke-width="3"/>
<line x1="980.8" y1="12.9" x2="970.3" y2="12.9" stroke="#000" stroke-width="3"/>
<line x1="148.3" y1="595.2" x2="158.8" y2="595.2" stroke="#000" stroke-width="3"/>
<line x1="980.8" y1="595.2" x2="970.3" y2="595.2" stroke="#000" stroke-width="3"/>
<line x1="148.3" y1="584.28" x2="153.6" y2="584.28" stroke="#000" stroke-width="3"/>
<line x1="980.8" y1="584.28" x2="975.5" y2="584.28" stroke="#000" stroke-width="3"/>
<line x1="148.3" y1="573.35" x2="153.6" y2="573.35" stroke="#000" stroke-width="3"/>
<line x1="980.8" y1="573.35" x2="975.5" y2="573.35" stroke="#000" stroke-width="3"/>
<line x1="148.3" y1="562.43" x2="153.6" y2="562.43" stroke="#000" stroke-width="3"/>
<line x1="980.8" y1="562.43" x2="975.5" y2="562.43" stroke="#000" stroke-width="3"/>
<line x1="148.3" y1="551.5" x2="153.6" y2="551.5" stroke="#000" stroke-width="3"/>
<line x1="980.8" y1="551.5" x2="975.5" y2="551.5" stroke="#000" stroke-width="3"/>
<line x1="148.3" y1="540.58" x2="158.8" y2="540.58" stroke="#000" stroke-width="3"/>
<line x1="980.8" y1="540.58" x2="970.3" y2="540.58" stroke="#000" stroke-width="3"/>
<line x1="148.3" y1="529.66" x2="153.6" y2="529.66" stroke="#000" stroke-width="3"/>
<line x1="980.8" y1="529.66" x2="975.5" y2="529.66" stroke="#000" stroke-width="3"/>
<line x1="148.3" y1="518.73" x2="153.6" y2="518.73" stroke="#000" stroke-width="3"/>
<line x1="980.8" y1="518.73" x2="975.5" y2="518.73" stroke="#000" stroke-width="3"/>
<line x1="148.3" y1="507.81" x2="153.6" y2="507.81" stroke="#000" stroke-width="3"/>
<line x1="980.8" y1="507.81" x2="975.5" y2="507.81" stroke="#000" stroke-width="3"/>
<line x1="148.3" y1="496.88" x2="153.6" y2="496.88" stroke="#000" stroke-width="3"/>
<line x1="980.8" y1="496.88" x2="975.5" y2="496.88" stroke="#000" stroke-width="3"/>
<line x1="148.3" y1="485.96" x2="158.8" y2="485.96" stroke="#000" stroke-width="3"/>
<line x1="980.8" y1="485.96" x2="970.3" y2="485.96" stroke="#000" stroke-width="3"/>
<line x1="148.3" y1="475.04" x2="153.6" y2="475.04" stroke="#000" stroke-width="3"/>
<line x1="980.8" y1="475.04" x2="975.5" y2="475.04" stroke="#000" stroke-width="3"/>
<line x1="148.3" y1="464.11" x2="153.6" y2="464.11" stroke="#000" stroke-width="3"/>
<line x1="980.8" y1="464.11" x2="975.5" y2="464.11" stroke="#000" stroke-width="3"/>
<line x1="148.3" y1="453.19" x2="153.6" y2="453.19" stroke="#000" stroke-width="3"/>
<line x1="980.8" y1="453.19" x2="975.5" y2="453.19" stroke="#000" stroke-width="3"/>
<line x1="148.3" y1="442.26" x2="153.6" y2="442.26" stroke="#000" stroke-width="3"/>
<line x1="980.8" y1="442.26" x2="975.5" y2="442.26" stroke="#000" stroke-width="3"/>
<line x1="148.3" y1="431.34" x2="158.8" y2="431.34" stroke="#000" stroke-width="3"/>
<line x1="980.8" y1="431.34" x2="970.3" y2="431.34" stroke="#000" stroke-width="3"/>
<line x1="148.3" y1="420.42" x2="153.6" y2="420.42" stroke="#000" stroke-width="3"/>
<line x1="980.8" y1="420.42" x2="975.5" y2="420.42" stroke="#000" stroke-width="3"/>
<line x1="148.3" y1="409.49" x2="153.6" y2="409.49" stroke="#000" stroke-width="3"/>
<line x1="980.8" y1="409.49" x2="975.5" y2="409.49" stroke="#000" stroke-width="3"/>
<line x1="148.3" y1="398.57" x2="153.6" y2="398.57" stroke="#000" stroke-width="3"/>
<line x1="980.8" y1="398.57" x2="975.5" y2="398.57" stroke="#000" stroke-width="3"/>
<line x1="148.3" y1="387.64" x2="153.6" y2="387.64" stroke="#000" stroke-width="3"/>
<line x1="980.8" y1="387.64" x2="975.5" y2="387.64" stroke="#000" stroke-width="3"/>
<line x1="148.3" y1="376.72" x2="158.8" y2="376.72" stroke="#000" stroke-width="3"/>
<line x1="980.8" y1="376.72" x2="970.3" y2="376.72" stroke="#000" stroke-width="3"/>
<line x1="148.3" y1="365.8" x2="153.6" y2="365.8" stroke="#000" stroke-width="3"/>
<line x1="980.8" y1="365.8" x2="975.5" y2="365.8" stroke="#000" stroke-width="3"/>
<line x1="148.3" y1="354.87" x2="153.6" y2="354.87" stroke="#000" stroke-width="3"/>
<line x1="980.8" y1="354.87" x2="975.5" y2="354.87" stroke="#000" stroke-width="3"/>
<line x1="148.3" y1="343.95" x2="153.6" y2="343.95" stroke="#000" stroke-width="3"/>
<line x1="980.8" y1="343.95" x2="975.5" y2="343.95" stroke="#000" stroke-width="3"/>
<line x1="148.3" y1="333.02" x2="153.6" y2="333.02" stroke="#000" stroke-width="3"/>
<line x1="980.8" y1="333.02" x2="975.5" y2="333.02" stroke="#000" stroke-width="3"/>
<line x1="148.3" y1="322.1" x2="158.8" y2="322.1" stroke="#000" stroke-width="3"/>
<line x1="980.8" y1="322.1" x2="970.3" y2="322.1" stroke="#000" stroke-width="3"/>
<line x1="148.3" y1="912.8" x2="158.8" y2="912.8" stroke="#000" stroke-width="3"/>
<line x1="980.8" y1="912.8" x2="970.3" y2="912.8" stroke="#000" stroke-width="3"/>
<line x1="148.3" y1="899.14" x2="153.6" y2="899.14" stroke="#000" stroke-width="3"/>
<line x1="980.8" y1="899.14" x2="975.5" y2="899.14" stroke="#000" stroke-width="3"/>
<line x1="148.3" y1="885.49" x2="153.6" y2="885.49" stroke="#000" stroke-width="3"/>
<line x1="980.8" y1="885.49" x2="975.5" y2="885.49" stroke="#000" stroke-width="3"/>
<line x1="148.3" y1="871.83" x2="153.6" y2="871.83" stroke="#000" stroke-width="3"/>
<line x1="980.8" y1="871.83" x2="975.5" y2="871.83" stroke="#000" stroke-width="3"/>
<line x1="148.3" y1="858.18" x2="153.6" y2="858.18" stroke="#000" stroke-width="3"/>
<line x1="980.8" y1="858.18" x2="975.5" y2="858.18" stroke="#000" stroke-width="3"/>
<line x1="148.3" y1="844.52" x2="158.8" y2="844.52" stroke="#000" stroke-width="3"/>
<line x1="980.8" y1="844.52" x2="970.3" y2="844.52" stroke="#000" stroke-width="3"/>
<line x1="148.3" y1="830.87" x2="153.6" y2="830.87" stroke="#000" stroke-width="3"/>
<line x1="980.8" y1="830.87" x2="975.5" y2="830.87" stroke="#000" stroke-width="3"/>
<line x1="148.3" y1="817.21" x2="153.6" y2="817.21" stroke="#000" stroke-width="3"/>
<line x1="980.8" y1="817.21" x2="975.5" y2="817.21" stroke="#000" stroke-width="3"/>
<line x1="148.3" y1="803.56" x2="153.6" y2="803.56" stroke="#000" stroke-width="3"/>
<line x1="980.8" y1="803.56" x2="975.5" y2="803.56" stroke="#000" stroke-width="3"/>
<line x1="148.3" y1="789.9" x2="153.6" y2="789.9" stroke="#000" stroke-width="3"/>
<line x1="980.8" y1="789.9" x2="975.5" y2="789.9" stroke="#000" stroke-width="3"/>
<line x1="148.3" y1="776.25" x2="158.8" y2="776.25" stroke="#000" stroke-width="3"/>
<line x1="980.8" y1="776.25" x2="970.3" y2="776.25" stroke="#000" stroke-width="3"/>
<line x1="148.3" y1="762.59" x2="153.6" y2="762.59" stroke="#000" stroke-width="3"/>
<line x1="980.8" y1="762.59" x2="975.5" y2="762.59" stroke="#000" stroke-width="3"/>
<line x1="148.3" y1="748.94" x2="153.6" y2="748.94" stroke="#000" stroke-width="3"/>
<line x1="980.8" y1="748.94" x2="975.5" y2="748.94" stroke="#000" stroke-width="3"/>
<line x1="148.3" y1="735.28" x2="153.6" y2="735.28" stroke="#000" stroke-width="3"/>
<line x1="980.8" y1="735.28" x2="975.5" y2="735.28" stroke="#000" stroke-width="3"/>
<line x1="148.3" y1="721.63" x2="153.6" y2="721.63" stroke="#000" stroke-width="3"/>
<line x1="980.8" y1="721.63" x2="975.5" y2="721.63" stroke="#000" stroke-width="3"/>
<line x1="148.3" y1="707.98" x2="158.8" y2="707.98" stroke="#000" stroke-width="3"/>
<line x1="980.8" y1="707.98" x2="970.3" y2="707.98" stroke="#000" stroke-width="3"/>
<line x1="148.3" y1="694.32" x2="153.6" y2="694.32" stroke="#000" stroke-width="3"/>
<line x1="980.8" y1="694.32" x2="975.5" y2="694.32" stroke="#000" stroke-width="3"/>
<line x1="148.3" y1="680.67" x2="153.6" y2="680.67" stroke="#000" stroke-width="3"/>
<line x1="980.8" y1="680.67" x2="975.5" y2="680.67" stroke="#000" stroke-width="3"/>
<line x1="148.3" y1="667.01" x2="153.6" y2="667.01" stroke="#000" stroke-width="3"/>
<line x1="980.8" y1="667.01" x2="975.5" y2="667.01" stroke="#000" stroke-width="3"/>
<line x1="148.3" y1="653.36" x2="153.6" y2="653.36" stroke="#000" stroke-width="3"/>
<line x1="980.8" y1="653.36" x2="975.5" y2="653.36" stroke="#000" stroke-width="3"/>
<line x1="148.3" y1="639.7" x2="158.8" y2="639.7" stroke="#000" stroke-width="3"/>
<line x1="980.8" y1="639.7" x2="970.3" y2="639.7" stroke="#000" stroke-width="3"/>
<line x1="148.3" y1="12.9" x2="148.3" y2="22.7" stroke="#000" stroke-width="3"/>
<line x1="148.3" y1="912.8" x2="148.3" y2="903" stroke="#000" stroke-width="3"/>
<line x1="176.04" y1="12.9" x2="176.04" y2="18" stroke="#000" stroke-width="3"/>
<line x1="176.04" y1="912.8" x2="176.04" y2="907.7" stroke="#000" stroke-width="3"/>
<line x1="203.78" y1="12.9" x2="203.78" y2="18" stroke="#000" stroke-width="3"/>
<line x1="203.78" y1="912.8" x2="203.78" y2="907.7" stroke="#000" stroke-width="3"/>
<line x1="231.52" y1="12.9" x2="231.52" y2="18" stroke="#000" stroke-width="3"/>
<line x1="231.52" y1="912.8" x2="231.52" y2="907.7" stroke="#000" stroke-width="3"/>
<line x1="259.26" y1="12.9" x2="259.26" y2="18" stroke="#000" stroke-width="3"/>
<line x1="259.26" y1="912.8" x2="259.26" y2="907.7" stroke="#000" stroke-width="3"/>
<line x1="287" y1="12.9" x2="287" y2="22.7" stroke="#000" stroke-width="3"/>
<line x1="287" y1="912.8" x2="287" y2="903" stroke="#000" stroke-width="3"/>
<line x1="314.74" y1="12.9" x2="314.74" y2="18" stroke="#000" stroke-width="3"/>
<line x1="314.74" y1="912.8" x2="314.74" y2="907.7" stroke="#000" stroke-width="3"/>
<line x1="342.48" y1="12.9" x2="342.48" y2="18" stroke="#000" stroke-width="3"/>
<line x1="342.48" y1="912.8" x2="342.48" y2="907.7" stroke="#000" stroke-width="3"/>
<line x1="370.22" y1="12.9" x2="370.22" y2="18" stroke="#000" stroke-width="3"/>
<line x1="370.22" y1="912.8" x2="370.22" y2="907.7" stroke="#000" stroke-width="3"/>
<line x1="397.96" y1="12.9" x2="397.96" y2="18" stroke="#000" stroke-width="3"/>
<line x1="397.96" y1="912.8" x2="397.96" y2="907.7" stroke="#000" stroke-width="3"/>
<line x1="425.7" y1="12.9" x2="425.7" y2="22.7" stroke="#000" stroke-width="3"/>
<line x1="425.7" y1="912.8" x2="425.7" y2="903" stroke="#000" stroke-width="3"/>
<line x1="453.44" y1="12.9" x2="453.44" y2="18" stroke="#000" stroke-width="3"/>
<line x1="453.44" y1="912.8" x2="453.44" y2="907.7" stroke="#000" stroke-width="3"/>
<line x1="481.18" y1="12.9" x2="481.18" y2="18" stroke="#000" stroke-width="3"/>
<line x1="481.18" y1="912.8" x2="481.18" y2="907.7" stroke="#000" stroke-width="3"/>
<line x1="508.92" y1="12.9" x2="508.92" y2="18" stroke="#000" stroke-width="3"/>
<line x1="508.92" y1="912.8" x2="508.92" y2="907.7" stroke="#000" stroke-width="3"/>
<line x1="536.66" y1="12.9" x2="536.66" y2="18" stroke="#000" stroke-width="3"/>
<line x1="536.66" y1="912.8" x2="536.66" y2="907.7" stroke="#000" stroke-width="3"/>
<line x1="564.4" y1="12.9" x2="564.4" y2="22.7" stroke="#000" stroke-width="3"/>
<line x1="564.4" y1="912.8" x2="564.4" y2="903" stroke="#000" stroke-width="3"/>
<line x1="592.14" y1="12.9" x2="592.14" y2="18" stroke="#000" stroke-width="3"/>
<line x1="592.14" y1="912.8" x2="592.14" y2="907.7" stroke="#000" stroke-width="3"/>
<line x1="619.88" y1="12.9" x2="619.88" y2="18" stroke="#000" stroke-width="3"/>
<line x1="619.88" y1="912.8" x2="619.88" y2="907.7" stroke="#000" stroke-width="3"/>
<line x1="647.62" y1="12.9" x2="647.62" y2="18" stroke="#000" stroke-width="3"/>
<line x1="647.62" y1="912.8" x2="647.62" y2="907.7" stroke="#000" stroke-width="3"/>
<line x1="675.36" y1="12.9" x2="675.36" y2="18" stroke="#000" stroke-width="3"/>
<line x1="675.36" y1="912.8" x2="675.36" y2="907.7" stroke="#000" stroke-width="3"/>
<line x1="703.1" y1="12.9" x2="703.1" y2="22.7" stroke="#000" stroke-width="3"/>
<line x1="703.1" y1="912.8" x2="703.1" y2="903" stroke="#000" stroke-width="3"/>
<line x1="730.84" y1="12.9" x2="730.84" y2="18" stroke="#000" stroke-width="3"/>
<line x1="730.84" y1="912.8" x2="730.84" y2="907.7" stroke="#000" stroke-width="3"/>
<line x1="758.58" y1="12.9" x2="758.58" y2="18" stroke="#000" stroke-width="3"/>
<line x1="758.58" y1="912.8" x2="758.58" y2="907.7" stroke="#000" stroke-width="3"/>
<line x1="786.32" y1="12.9" x2="786.32" y2="18" stroke="#000" stroke-width="3"/>
<line x1="786.32" y1="912.8" x2="786.32" y2="907.7" stroke="#000" stroke-width="3"/>
<line x1="814.06" y1="12.9" x2="814.06" y2="18" stroke="#000" stroke-width="3"/>
<line x1="814.06" y1="912.8" x2="814.06" y2="907.7" stroke="#000" stroke-width="3"/>
<line x1="841.8" y1="12.9" x2="841.8" y2="22.7" stroke="#000" stroke-width="3"/>
<line x1="841.8" y1="912.8" x2="841.8" y2="903" stroke="#000" stroke-width="3"/>
<line x1="869.54" y1="12.9" x2="869.54" y2="18" stroke="#000" stroke-width="3"/>
<line x1="869.54" y1="912.8" x2="869.54" y2="907.7" stroke="#000" stroke-width="3"/>
<line x1="897.28" y1="12.9" x2="897.28" y2="18" stroke="#000" stroke-width="3"/>
<line x1="897.28" y1="912.8" x2="897.28" y2="907.7" stroke="#000" stroke-width="3"/>
<line x1="925.02" y1="12.9" x2="925.02" y2="18" stroke="#000" stroke-width="3"/>
<line x1="925.02" y1="912.8" x2="925.02" y2="907.7" stroke="#000" stroke-width="3"/>
<line x1="952.76" y1="12.9" x2="952.76" y2="18" stroke="#000" stroke-width="3"/>
<line x1="952.76" y1="912.8" x2="952.76" y2="907.7" stroke="#000" stroke-width="3"/>
<line x1="980.5" y1="12.9" x2="980.5" y2="22.7" stroke="#000" stroke-width="3"/>
<line x1="980.5" y1="912.8" x2="980.5" y2="903" stroke="#000" stroke-width="3"/>
<text transform="translate(137.6,294.11) scale(1,1.041)" font-size="27.5" text-anchor="end">850</text>
<text transform="translate(137.6,203.07) scale(1,1.041)" font-size="27.5" text-anchor="end">900</text>
<text transform="translate(137.6,112.03) scale(1,1.041)" font-size="27.5" text-anchor="end">950</text>
<text transform="translate(137.6,21) scale(1,1.041)" font-size="27.5" text-anchor="end">1000</text>
<text transform="translate(137.6,603.3) scale(1,1.041)" font-size="27.5" text-anchor="end">0</text>
<text transform="translate(137.6,548.68) scale(1,1.041)" font-size="27.5" text-anchor="end">2</text>
<text transform="translate(137.6,494.06) scale(1,1.041)" font-size="27.5" text-anchor="end">4</text>
<text transform="translate(137.6,439.44) scale(1,1.041)" font-size="27.5" text-anchor="end">6</text>
<text transform="translate(137.6,384.82) scale(1,1.041)" font-size="27.5" text-anchor="end">8</text>
<text transform="translate(137.6,330.2) scale(1,1.041)" font-size="27.5" text-anchor="end">10</text>
<text transform="translate(137.6,920.9) scale(1,1.041)" font-size="27.5" text-anchor="end">0.95</text>
<text transform="translate(137.6,852.62) scale(1,1.041)" font-size="27.5" text-anchor="end">1.00</text>
<text transform="translate(137.6,784.35) scale(1,1.041)" font-size="27.5" text-anchor="end">1.05</text>
<text transform="translate(137.6,716.07) scale(1,1.041)" font-size="27.5" text-anchor="end">1.10</text>
<text transform="translate(137.6,647.8) scale(1,1.041)" font-size="27.5" text-anchor="end">1.15</text>
<text transform="translate(148.7,945.3) scale(1,1.041)" font-size="27.5" text-anchor="middle">0</text>
<text transform="translate(287.4,945.3) scale(1,1.041)" font-size="27.5" text-anchor="middle">5</text>
<text transform="translate(426.1,945.3) scale(1,1.041)" font-size="27.5" text-anchor="middle">10</text>
<text transform="translate(564.8,945.3) scale(1,1.041)" font-size="27.5" text-anchor="middle">15</text>
<text transform="translate(703.5,945.3) scale(1,1.041)" font-size="27.5" text-anchor="middle">20</text>
<text transform="translate(842.2,945.3) scale(1,1.041)" font-size="27.5" text-anchor="middle">25</text>
<text transform="translate(980.9,945.3) scale(1,1.041)" font-size="27.5" text-anchor="middle">30</text>
<text font-size="31" x="564.3" y="986.9" text-anchor="middle">Time [h]</text>
<rect x="162.7" y="20.3" width="45.5" height="37.5" fill="#fff"/>
<text font-size="27.5" x="168" y="49.3">(a)</text>
<rect x="162.7" y="330.7" width="45.5" height="37.5" fill="#fff"/>
<text font-size="27.5" x="168" y="359.7">(b)</text>
<rect x="162.7" y="653.1" width="45.5" height="37.5" fill="#fff"/>
<text font-size="27.5" x="168" y="682.1">(c)</text>
<text transform="translate(27,152.3) rotate(-90) scale(1,1.041)" font-size="31" text-anchor="middle">Cell pressure</text>
<text transform="translate(67.8,148.7) rotate(-90) scale(1,1.041)" font-size="31" text-anchor="middle">[mbar]</text>
<text transform="translate(29,462.6) rotate(-90) scale(1,1.041)" font-size="31" text-anchor="middle" textLength="274.7" lengthAdjust="spacing"><tspan font-style="italic">I</tspan><tspan font-size="20" dy="8.9"><tspan font-style="italic">x</tspan>,Gas</tspan><tspan dy="-8.9" font-style="italic">/</tspan><tspan font-style="italic">p</tspan><tspan font-size="20" dy="8.9">Base</tspan><tspan dy="-8.9"> [A bar</tspan><tspan font-size="20" dy="-13.8">&#8722;1</tspan><tspan dy="13.8">]</tspan></text>
<text transform="translate(76.3,457.25) rotate(-90) scale(1,1.041)" font-size="31" text-anchor="middle">@ 2000 ppm</text>
<text transform="translate(29,775.6) rotate(-90) scale(1,1.041)" font-size="31" text-anchor="middle" textLength="267.1" lengthAdjust="spacing">Relative <tspan font-style="italic">I</tspan><tspan font-size="20" dy="8.9"><tspan font-style="italic">x</tspan>,Gas</tspan><tspan dy="-8.9" font-style="italic">/</tspan><tspan font-style="italic">p</tspan><tspan font-size="20" dy="8.9">Base</tspan></text>
<text transform="translate(76.8,774.75) rotate(-90) scale(1,1.041)" font-size="31" text-anchor="middle">@ 2000 ppm</text>
</svg>
</body></html>
